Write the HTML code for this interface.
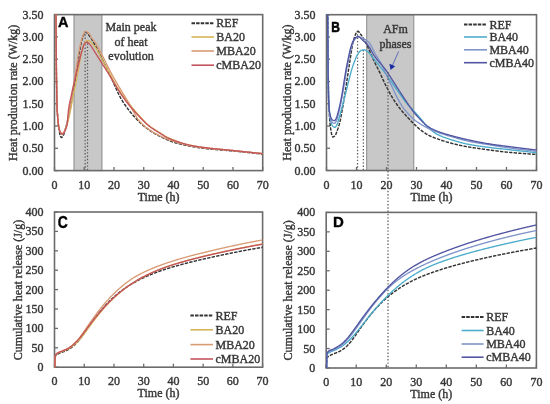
<!DOCTYPE html><html><head><meta charset="utf-8"><style>html,body{margin:0;padding:0;background:#fff;width:550px;height:404px;overflow:hidden}svg{display:block;will-change:transform}text{font-family:"Liberation Serif",serif;fill:#383838;stroke:#383838;stroke-width:0.4px}</style></head><body>
<svg width="550" height="404" viewBox="0 0 550 404">
<defs><clipPath id="clA"><rect x="53.00" y="14.60" width="211.20" height="157.50"/></clipPath><clipPath id="clB"><rect x="325.00" y="14.70" width="213.00" height="157.30"/></clipPath><clipPath id="clC"><rect x="53.00" y="212.00" width="211.10" height="156.70"/></clipPath><clipPath id="clD"><rect x="324.70" y="212.40" width="213.20" height="157.10"/></clipPath></defs>
<rect x="73.98" y="14.60" width="27.96" height="156.00" fill="#c8c8c8" stroke="#8a8a8a" stroke-width="1"/>
<line x1="54.50" y1="170.60" x2="54.50" y2="167.10" stroke="#6b6b6b" stroke-width="1.3"/>
<line x1="84.24" y1="170.60" x2="84.24" y2="167.10" stroke="#6b6b6b" stroke-width="1.3"/>
<line x1="113.99" y1="170.60" x2="113.99" y2="167.10" stroke="#6b6b6b" stroke-width="1.3"/>
<line x1="143.73" y1="170.60" x2="143.73" y2="167.10" stroke="#6b6b6b" stroke-width="1.3"/>
<line x1="173.47" y1="170.60" x2="173.47" y2="167.10" stroke="#6b6b6b" stroke-width="1.3"/>
<line x1="203.21" y1="170.60" x2="203.21" y2="167.10" stroke="#6b6b6b" stroke-width="1.3"/>
<line x1="232.96" y1="170.60" x2="232.96" y2="167.10" stroke="#6b6b6b" stroke-width="1.3"/>
<line x1="262.70" y1="170.60" x2="262.70" y2="167.10" stroke="#6b6b6b" stroke-width="1.3"/>
<line x1="54.50" y1="170.60" x2="58.00" y2="170.60" stroke="#6b6b6b" stroke-width="1.3"/>
<text x="43.50" y="174.60" font-size="12" text-anchor="end">0.00</text>
<line x1="54.50" y1="148.31" x2="58.00" y2="148.31" stroke="#6b6b6b" stroke-width="1.3"/>
<text x="43.50" y="152.31" font-size="12" text-anchor="end">0.50</text>
<line x1="54.50" y1="126.03" x2="58.00" y2="126.03" stroke="#6b6b6b" stroke-width="1.3"/>
<text x="43.50" y="130.03" font-size="12" text-anchor="end">1.00</text>
<line x1="54.50" y1="103.74" x2="58.00" y2="103.74" stroke="#6b6b6b" stroke-width="1.3"/>
<text x="43.50" y="107.74" font-size="12" text-anchor="end">1.50</text>
<line x1="54.50" y1="81.46" x2="58.00" y2="81.46" stroke="#6b6b6b" stroke-width="1.3"/>
<text x="43.50" y="85.46" font-size="12" text-anchor="end">2.00</text>
<line x1="54.50" y1="59.17" x2="58.00" y2="59.17" stroke="#6b6b6b" stroke-width="1.3"/>
<text x="43.50" y="63.17" font-size="12" text-anchor="end">2.50</text>
<line x1="54.50" y1="36.89" x2="58.00" y2="36.89" stroke="#6b6b6b" stroke-width="1.3"/>
<text x="43.50" y="40.89" font-size="12" text-anchor="end">3.00</text>
<line x1="54.50" y1="14.60" x2="58.00" y2="14.60" stroke="#6b6b6b" stroke-width="1.3"/>
<text x="43.50" y="18.60" font-size="12" text-anchor="end">3.50</text>
<text x="54.50" y="188.80" font-size="12" text-anchor="middle">0</text>
<text x="84.24" y="188.80" font-size="12" text-anchor="middle">10</text>
<text x="113.99" y="188.80" font-size="12" text-anchor="middle">20</text>
<text x="143.73" y="188.80" font-size="12" text-anchor="middle">30</text>
<text x="173.47" y="188.80" font-size="12" text-anchor="middle">40</text>
<text x="203.21" y="188.80" font-size="12" text-anchor="middle">50</text>
<text x="232.96" y="188.80" font-size="12" text-anchor="middle">60</text>
<text x="262.70" y="188.80" font-size="12" text-anchor="middle">70</text>
<text x="158.60" y="200.60" font-size="12" text-anchor="middle">Time (h)</text>
<text transform="translate(16.90,92.80) rotate(-90)" font-size="12" text-anchor="middle">Heat production rate (W/kg)</text>
<rect x="54.50" y="14.60" width="208.20" height="156.00" fill="none" stroke="#6b6b6b" stroke-width="1.6"/>
<g clip-path="url(#clA)">
<line x1="85.14" y1="31.00" x2="85.14" y2="170.00" stroke="#5a5a5a" stroke-width="1.25" stroke-dasharray="1.4,1.9"/>
<line x1="87.51" y1="40.00" x2="87.51" y2="170.00" stroke="#5a5a5a" stroke-width="1.25" stroke-dasharray="1.4,1.9"/>
<path d="M55.54,-52.26 55.76,-18.36 55.99,14.60 56.14,35.50 56.28,54.71 56.40,68.92 56.52,80.12 56.85,98.97 57.18,109.98 57.85,120.07 58.52,126.03 59.18,130.80 59.85,134.05 60.60,136.48 61.34,137.62 61.94,137.35 62.53,136.69 63.13,135.83 63.82,134.27 64.51,132.01 65.21,129.59 65.80,127.56 66.40,125.41 66.99,123.12 67.59,120.68 68.18,118.03 68.78,115.17 69.37,112.17 69.97,109.08 70.56,105.97 71.23,102.44 71.90,98.82 72.57,95.09 73.24,91.26 73.91,87.29 74.58,83.17 75.25,78.98 75.91,74.77 76.57,70.55 77.22,66.19 77.88,61.85 78.53,57.68 79.19,53.82 79.78,50.46 80.38,47.13 80.97,44.01 81.57,41.27 82.16,39.11 82.82,37.10 83.47,35.17 84.12,33.54 84.78,32.41 85.43,31.98 86.10,32.20 86.77,32.75 87.44,33.48 88.11,34.21 88.76,34.94 89.42,35.78 90.07,36.70 90.73,37.67 91.38,38.67 92.04,39.72 92.69,40.85 93.34,42.04 94.00,43.25 94.65,44.46 95.31,45.70 95.97,46.95 96.64,48.23 97.30,49.52 97.96,50.82 98.62,52.13 99.28,53.44 99.94,54.75 100.60,56.05 101.28,57.38 101.95,58.70 102.63,60.02 103.31,61.34 103.98,62.67 104.66,63.99 105.33,65.33 106.01,66.67 106.69,68.02 107.36,69.38 108.04,70.76 108.74,72.22 109.45,73.72 110.15,75.26 110.85,76.82 111.56,78.40 112.26,79.99 112.97,81.60 113.67,83.20 114.38,84.81 115.08,86.40 115.79,87.98 116.49,89.53 117.19,91.06 117.90,92.55 118.60,94.00 119.31,95.41 120.01,96.76 120.72,98.06 121.42,99.29 122.12,100.45 122.81,101.57 123.50,102.66 124.20,103.72 124.89,104.75 125.59,105.75 126.28,106.73 126.97,107.69 127.67,108.62 128.36,109.54 129.06,110.44 129.75,111.32 130.44,112.19 131.14,113.04 131.83,113.88 132.53,114.70 133.22,115.50 133.91,116.29 134.61,117.06 135.30,117.82 136.00,118.56 136.69,119.28 137.38,119.99 138.08,120.68 138.80,121.38 139.51,122.08 140.23,122.77 140.95,123.44 141.67,124.10 142.39,124.74 143.11,125.37 143.83,125.99 144.55,126.59 145.27,127.16 145.98,127.72 146.70,128.26 147.43,128.78 148.16,129.30 148.88,129.81 149.61,130.30 150.34,130.79 151.07,131.27 151.79,131.74 152.52,132.20 153.25,132.65 153.97,133.09 154.70,133.52 155.43,133.94 156.15,134.35 156.88,134.75 157.61,135.15 158.34,135.54 159.06,135.91 159.79,136.28 160.50,136.63 161.21,136.98 161.91,137.33 162.62,137.67 163.33,138.01 164.04,138.34 164.75,138.67 165.46,138.99 166.16,139.31 166.87,139.62 167.58,139.92 168.29,140.22 169.00,140.51 169.70,140.79 170.41,141.06 171.12,141.33 171.83,141.59 172.54,141.83 173.24,142.07 173.95,142.30 174.66,142.52 175.38,142.73 176.11,142.94 176.83,143.15 177.55,143.34 178.27,143.54 179.00,143.72 179.72,143.90 180.44,144.08 181.16,144.25 181.88,144.42 182.61,144.59 183.33,144.75 184.05,144.91 184.77,145.06 185.50,145.22 186.22,145.37 186.94,145.51 187.66,145.66 188.39,145.80 189.11,145.94 189.83,146.09 190.53,146.22 191.24,146.36 191.94,146.49 192.65,146.62 193.35,146.76 194.06,146.89 194.76,147.01 195.47,147.14 196.17,147.26 196.87,147.38 197.58,147.50 198.28,147.61 198.99,147.73 199.69,147.83 200.40,147.94 201.10,148.04 201.81,148.13 202.51,148.23 203.21,148.31 203.94,148.40 204.67,148.49 205.39,148.57 206.12,148.65 206.84,148.73 207.57,148.80 208.29,148.88 209.02,148.95 209.74,149.02 210.47,149.09 211.19,149.16 211.92,149.22 212.64,149.29 213.37,149.35 214.10,149.41 214.82,149.47 215.55,149.54 216.27,149.60 217.00,149.65 217.72,149.71 218.45,149.77 219.17,149.83 219.90,149.89 220.62,149.94 221.35,150.00 222.08,150.06 222.80,150.12 223.53,150.17 224.25,150.23 224.98,150.29 225.70,150.35 226.43,150.41 227.15,150.47 227.88,150.53 228.60,150.59 229.33,150.66 230.06,150.72 230.78,150.78 231.51,150.85 232.23,150.92 232.96,150.99 233.68,151.06 234.41,151.13 235.13,151.20 235.86,151.27 236.58,151.35 237.31,151.42 238.04,151.49 238.76,151.57 239.49,151.64 240.21,151.72 240.94,151.79 241.66,151.87 242.39,151.94 243.11,152.02 243.84,152.09 244.56,152.17 245.29,152.25 246.01,152.33 246.74,152.40 247.47,152.48 248.19,152.56 248.92,152.64 249.64,152.71 250.37,152.79 251.09,152.87 251.82,152.95 252.54,153.02 253.27,153.10 253.99,153.18 254.72,153.26 255.45,153.34 256.17,153.41 256.90,153.49 257.62,153.57 258.35,153.65 259.07,153.72 259.80,153.80 260.52,153.88 261.25,153.96 261.97,154.03 262.70,154.11" fill="none" stroke="#333333" stroke-width="1.45" stroke-dasharray="3.4,1.2" stroke-linejoin="round"/>
<path d="M55.54,-52.26 55.76,-18.36 55.99,14.60 56.14,35.50 56.28,54.71 56.40,68.92 56.52,80.12 56.85,99.04 57.18,109.98 57.85,119.80 58.52,125.14 59.06,128.14 59.61,130.41 60.15,131.82 60.85,132.94 61.54,133.74 62.23,134.05 62.93,133.70 63.62,132.86 64.32,131.82 64.98,130.61 65.65,129.03 66.32,127.17 66.99,125.14 67.71,122.69 68.42,119.84 69.13,116.70 69.85,113.38 70.56,109.98 71.16,106.97 71.75,103.72 72.35,100.36 72.94,97.05 73.54,93.94 74.13,91.07 74.73,88.34 75.32,85.66 75.91,82.95 76.51,80.12 77.22,76.45 77.92,72.47 78.63,68.32 79.34,64.16 80.04,60.13 80.75,56.37 81.45,53.03 82.16,50.26 82.76,48.21 83.35,46.25 83.95,44.52 84.54,43.14 85.14,42.23 85.80,41.56 86.47,40.99 87.14,40.60 87.81,40.45 88.46,40.57 89.10,40.90 89.75,41.37 90.39,41.93 91.03,42.54 91.68,43.13 92.32,43.72 92.95,44.38 93.59,45.10 94.23,45.87 94.87,46.70 95.50,47.57 96.14,48.47 96.80,49.49 97.46,50.62 98.12,51.83 98.78,53.10 99.44,54.41 100.11,55.74 100.77,57.07 101.43,58.37 102.09,59.62 102.80,60.93 103.52,62.23 104.23,63.52 104.94,64.81 105.66,66.09 106.37,67.38 107.09,68.66 107.80,69.95 108.51,71.24 109.23,72.54 109.93,73.84 110.63,75.17 111.34,76.51 112.04,77.87 112.74,79.22 113.44,80.56 114.15,81.88 114.85,83.18 115.55,84.44 116.26,85.65 116.96,86.81 117.69,87.96 118.42,89.09 119.16,90.18 119.89,91.25 120.62,92.30 121.35,93.33 122.08,94.34 122.82,95.33 123.55,96.31 124.28,97.29 125.01,98.25 125.75,99.22 126.48,100.18 127.20,101.13 127.93,102.07 128.65,103.01 129.38,103.94 130.10,104.87 130.83,105.78 131.55,106.69 132.28,107.59 133.00,108.49 133.73,109.37 134.45,110.24 135.18,111.10 135.90,111.95 136.63,112.79 137.35,113.62 138.08,114.44 138.77,115.22 139.47,115.99 140.16,116.77 140.85,117.54 141.55,118.31 142.24,119.07 142.94,119.82 143.63,120.55 144.32,121.27 145.02,121.97 145.71,122.65 146.41,123.31 147.10,123.95 147.79,124.56 148.49,125.14 149.19,125.70 149.90,126.25 150.61,126.77 151.31,127.28 152.02,127.78 152.73,128.26 153.43,128.73 154.14,129.19 154.84,129.64 155.55,130.09 156.26,130.53 156.96,130.97 157.67,131.40 158.38,131.84 159.08,132.27 159.79,132.71 160.48,133.15 161.18,133.59 161.87,134.03 162.57,134.48 163.26,134.91 163.95,135.34 164.65,135.76 165.34,136.17 166.04,136.56 166.73,136.94 167.42,137.29 168.12,137.62 168.84,137.94 169.57,138.27 170.29,138.59 171.01,138.90 171.74,139.21 172.46,139.52 173.18,139.82 173.91,140.12 174.63,140.41 175.36,140.69 176.08,140.98 176.80,141.25 177.53,141.52 178.25,141.79 178.97,142.05 179.70,142.30 180.42,142.55 181.15,142.79 181.87,143.03 182.59,143.26 183.32,143.48 184.04,143.70 184.76,143.91 185.49,144.11 186.21,144.31 186.94,144.50 187.66,144.69 188.38,144.86 189.11,145.03 189.83,145.19 190.53,145.35 191.24,145.49 191.94,145.63 192.65,145.77 193.35,145.90 194.06,146.03 194.76,146.16 195.47,146.28 196.17,146.40 196.87,146.51 197.58,146.62 198.28,146.73 198.99,146.83 199.69,146.94 200.40,147.04 201.10,147.14 201.81,147.23 202.51,147.33 203.21,147.42 203.94,147.52 204.67,147.61 205.39,147.70 206.12,147.79 206.84,147.88 207.57,147.97 208.29,148.05 209.02,148.14 209.74,148.22 210.47,148.30 211.19,148.38 211.92,148.46 212.64,148.53 213.37,148.61 214.10,148.69 214.82,148.76 215.55,148.83 216.27,148.91 217.00,148.98 217.72,149.05 218.45,149.12 219.17,149.19 219.90,149.26 220.62,149.33 221.35,149.40 222.08,149.47 222.80,149.54 223.53,149.61 224.25,149.68 224.98,149.75 225.70,149.82 226.43,149.89 227.15,149.96 227.88,150.03 228.60,150.10 229.33,150.17 230.06,150.25 230.78,150.32 231.51,150.39 232.23,150.47 232.96,150.54 233.68,150.62 234.41,150.70 235.13,150.77 235.86,150.85 236.58,150.92 237.31,151.00 238.04,151.08 238.76,151.15 239.49,151.23 240.21,151.30 240.94,151.38 241.66,151.46 242.39,151.53 243.11,151.61 243.84,151.68 244.56,151.76 245.29,151.84 246.01,151.91 246.74,151.99 247.47,152.06 248.19,152.14 248.92,152.22 249.64,152.29 250.37,152.37 251.09,152.45 251.82,152.52 252.54,152.60 253.27,152.67 253.99,152.75 254.72,152.83 255.45,152.90 256.17,152.98 256.90,153.05 257.62,153.13 258.35,153.21 259.07,153.28 259.80,153.36 260.52,153.43 261.25,153.51 261.97,153.59 262.70,153.66" fill="none" stroke="#d6b458" stroke-width="1.35" stroke-linejoin="round"/>
<path d="M55.54,-52.26 55.76,-18.36 55.99,14.60 56.14,35.50 56.28,54.71 56.40,68.92 56.52,80.12 56.85,99.04 57.18,109.98 57.85,119.80 58.52,125.14 59.06,128.14 59.61,130.41 60.15,131.82 60.85,132.94 61.54,133.74 62.23,134.05 62.93,133.63 63.62,132.61 64.32,131.38 64.98,130.01 65.65,128.26 66.32,126.17 66.99,123.80 67.66,120.82 68.33,117.14 69.00,113.11 69.67,109.09 70.34,105.09 71.01,100.93 71.68,96.73 72.35,92.60 73.04,88.43 73.73,84.30 74.43,80.12 75.11,75.82 75.79,71.33 76.47,66.77 77.15,62.26 77.83,57.92 78.51,53.88 79.19,50.26 79.78,47.32 80.38,44.48 80.97,41.85 81.57,39.58 82.16,37.78 82.84,36.00 83.53,34.32 84.21,32.89 84.90,31.91 85.58,31.54 86.21,31.61 86.83,31.80 87.46,32.10 88.08,32.46 88.70,32.87 89.30,33.50 89.89,34.45 90.49,35.59 91.08,36.75 91.68,37.78 92.38,38.83 93.09,39.82 93.80,40.77 94.50,41.71 95.21,42.66 95.92,43.65 96.62,44.68 97.33,45.80 98.05,47.04 98.77,48.38 99.50,49.79 100.22,51.24 100.94,52.71 101.66,54.17 102.39,55.61 103.08,56.97 103.77,58.35 104.47,59.73 105.16,61.13 105.86,62.53 106.55,63.93 107.24,65.33 107.94,66.72 108.63,68.11 109.33,69.49 110.02,70.85 110.71,72.20 111.41,73.52 112.10,74.83 112.80,76.11 113.51,77.41 114.23,78.68 114.95,79.94 115.67,81.18 116.39,82.41 117.11,83.62 117.83,84.83 118.55,86.03 119.27,87.23 119.98,88.42 120.70,89.62 121.42,90.82 122.08,91.92 122.74,93.00 123.40,94.08 124.07,95.15 124.73,96.22 125.39,97.30 126.05,98.39 126.71,99.50 127.37,100.62 128.03,101.77 128.69,102.95 129.35,104.15 130.01,105.35 130.67,106.56 131.34,107.77 132.00,108.97 132.66,110.16 133.32,111.32 134.00,112.53 134.68,113.76 135.36,115.00 136.04,116.21 136.72,117.35 137.40,118.41 138.08,119.34 138.80,120.24 139.51,121.09 140.23,121.90 140.95,122.68 141.67,123.42 142.39,124.12 143.11,124.80 143.83,125.45 144.55,126.07 145.27,126.67 145.98,127.25 146.70,127.81 147.43,128.36 148.16,128.90 148.88,129.42 149.61,129.92 150.34,130.42 151.07,130.90 151.79,131.36 152.52,131.82 153.25,132.26 153.97,132.70 154.70,133.12 155.43,133.53 156.15,133.94 156.88,134.33 157.61,134.72 158.34,135.10 159.06,135.47 159.79,135.83 160.48,136.18 161.18,136.51 161.87,136.84 162.57,137.15 163.26,137.46 163.95,137.77 164.65,138.06 165.34,138.35 166.04,138.62 166.73,138.89 167.42,139.15 168.12,139.40 168.84,139.66 169.57,139.91 170.29,140.16 171.01,140.40 171.74,140.65 172.46,140.89 173.18,141.13 173.91,141.36 174.63,141.60 175.36,141.83 176.08,142.05 176.80,142.27 177.53,142.49 178.25,142.71 178.97,142.92 179.70,143.13 180.42,143.33 181.15,143.54 181.87,143.73 182.59,143.93 183.32,144.12 184.04,144.30 184.76,144.49 185.49,144.66 186.21,144.84 186.94,145.01 187.66,145.17 188.38,145.33 189.11,145.49 189.83,145.64 190.53,145.78 191.24,145.93 191.94,146.06 192.65,146.20 193.35,146.33 194.06,146.46 194.76,146.59 195.47,146.72 196.17,146.84 196.87,146.96 197.58,147.07 198.28,147.18 198.99,147.29 199.69,147.40 200.40,147.50 201.10,147.60 201.81,147.69 202.51,147.78 203.21,147.87 203.94,147.96 204.67,148.04 205.39,148.12 206.12,148.20 206.84,148.28 207.57,148.36 208.29,148.43 209.02,148.50 209.74,148.57 210.47,148.64 211.19,148.71 211.92,148.78 212.64,148.84 213.37,148.90 214.10,148.97 214.82,149.03 215.55,149.09 216.27,149.15 217.00,149.21 217.72,149.27 218.45,149.33 219.17,149.38 219.90,149.44 220.62,149.50 221.35,149.56 222.08,149.61 222.80,149.67 223.53,149.73 224.25,149.79 224.98,149.85 225.70,149.90 226.43,149.96 227.15,150.02 227.88,150.08 228.60,150.15 229.33,150.21 230.06,150.27 230.78,150.34 231.51,150.41 232.23,150.47 232.96,150.54 233.68,150.61 234.41,150.68 235.13,150.76 235.86,150.83 236.58,150.90 237.31,150.97 238.04,151.05 238.76,151.12 239.49,151.20 240.21,151.27 240.94,151.35 241.66,151.42 242.39,151.50 243.11,151.57 243.84,151.65 244.56,151.73 245.29,151.80 246.01,151.88 246.74,151.96 247.47,152.03 248.19,152.11 248.92,152.19 249.64,152.27 250.37,152.35 251.09,152.42 251.82,152.50 252.54,152.58 253.27,152.66 253.99,152.74 254.72,152.81 255.45,152.89 256.17,152.97 256.90,153.05 257.62,153.12 258.35,153.20 259.07,153.28 259.80,153.36 260.52,153.43 261.25,153.51 261.97,153.59 262.70,153.66" fill="none" stroke="#d99b74" stroke-width="1.35" stroke-linejoin="round"/>
<path d="M55.54,-52.26 55.76,-18.36 55.99,14.60 56.14,35.50 56.28,54.71 56.40,68.92 56.52,80.12 56.85,99.04 57.18,109.98 57.85,119.80 58.52,125.14 59.06,128.14 59.61,130.41 60.15,131.82 60.85,132.94 61.54,133.74 62.23,134.05 62.93,133.70 63.62,132.86 64.32,131.82 64.98,130.76 65.65,129.41 66.32,127.60 66.99,125.14 67.49,121.05 67.98,115.00 68.48,109.98 69.07,106.18 69.67,102.99 70.26,100.20 70.86,97.55 71.45,94.83 72.11,91.74 72.76,88.74 73.42,85.81 74.07,82.94 74.73,80.12 75.40,77.22 76.08,74.32 76.75,71.43 77.43,68.56 78.11,65.72 78.78,62.94 79.46,60.22 80.13,57.57 80.81,55.02 81.48,52.58 82.16,50.26 82.85,47.78 83.55,45.46 84.24,44.02 84.91,43.32 85.58,42.75 86.25,42.37 86.92,42.23 87.57,42.40 88.23,42.84 88.88,43.47 89.54,44.19 90.19,44.91 90.79,45.63 91.38,46.49 91.98,47.44 92.57,48.41 93.17,49.37 93.86,50.45 94.55,51.56 95.25,52.68 95.94,53.81 96.64,54.94 97.33,56.05 98.06,57.22 98.80,58.38 99.53,59.54 100.26,60.69 101.00,61.84 101.73,62.99 102.47,64.14 103.20,65.29 103.93,66.44 104.67,67.59 105.40,68.75 106.13,69.91 106.87,71.08 107.60,72.25 108.33,73.43 109.05,74.61 109.77,75.79 110.49,76.99 111.21,78.19 111.93,79.40 112.65,80.61 113.37,81.82 114.08,83.02 114.80,84.21 115.52,85.39 116.24,86.56 116.96,87.70 117.65,88.78 118.33,89.86 119.02,90.94 119.71,92.01 120.39,93.08 121.08,94.14 121.76,95.18 122.45,96.22 123.14,97.23 123.82,98.22 124.51,99.20 125.20,100.15 125.88,101.07 126.60,102.01 127.32,102.93 128.03,103.84 128.75,104.73 129.47,105.61 130.19,106.48 130.90,107.33 131.62,108.17 132.34,109.00 133.06,109.82 133.77,110.63 134.49,111.43 135.21,112.23 135.93,113.01 136.64,113.79 137.36,114.56 138.08,115.33 138.77,116.07 139.47,116.81 140.16,117.55 140.85,118.29 141.55,119.02 142.24,119.74 142.94,120.45 143.63,121.15 144.32,121.84 145.02,122.51 145.71,123.17 146.41,123.81 147.10,124.42 147.79,125.01 148.49,125.58 149.19,126.14 149.90,126.68 150.61,127.20 151.31,127.71 152.02,128.20 152.73,128.68 153.43,129.16 154.14,129.62 154.84,130.07 155.55,130.52 156.26,130.97 156.96,131.41 157.67,131.84 158.38,132.28 159.08,132.72 159.79,133.16 160.48,133.60 161.18,134.04 161.87,134.49 162.57,134.93 163.26,135.37 163.95,135.80 164.65,136.23 165.34,136.63 166.04,137.03 166.73,137.40 167.42,137.74 168.12,138.06 168.84,138.38 169.57,138.69 170.29,138.99 171.01,139.29 171.74,139.59 172.46,139.88 173.18,140.16 173.91,140.44 174.63,140.71 175.36,140.98 176.08,141.24 176.80,141.50 177.53,141.75 178.25,142.00 178.97,142.24 179.70,142.47 180.42,142.70 181.15,142.93 181.87,143.15 182.59,143.36 183.32,143.57 184.04,143.77 184.76,143.97 185.49,144.16 186.21,144.35 186.94,144.53 187.66,144.70 188.38,144.87 189.11,145.04 189.83,145.19 190.53,145.34 191.24,145.49 191.94,145.63 192.65,145.77 193.35,145.90 194.06,146.03 194.76,146.15 195.47,146.27 196.17,146.39 196.87,146.50 197.58,146.62 198.28,146.72 198.99,146.83 199.69,146.93 200.40,147.04 201.10,147.14 201.81,147.23 202.51,147.33 203.21,147.42 203.94,147.52 204.67,147.61 205.39,147.70 206.12,147.79 206.84,147.88 207.57,147.97 208.29,148.05 209.02,148.14 209.74,148.22 210.47,148.30 211.19,148.38 211.92,148.46 212.64,148.53 213.37,148.61 214.10,148.69 214.82,148.76 215.55,148.83 216.27,148.91 217.00,148.98 217.72,149.05 218.45,149.12 219.17,149.19 219.90,149.26 220.62,149.33 221.35,149.40 222.08,149.47 222.80,149.54 223.53,149.61 224.25,149.68 224.98,149.75 225.70,149.82 226.43,149.89 227.15,149.96 227.88,150.03 228.60,150.10 229.33,150.17 230.06,150.25 230.78,150.32 231.51,150.39 232.23,150.47 232.96,150.54 233.68,150.62 234.41,150.70 235.13,150.77 235.86,150.85 236.58,150.92 237.31,151.00 238.04,151.08 238.76,151.15 239.49,151.23 240.21,151.30 240.94,151.38 241.66,151.46 242.39,151.53 243.11,151.61 243.84,151.68 244.56,151.76 245.29,151.84 246.01,151.91 246.74,151.99 247.47,152.06 248.19,152.14 248.92,152.22 249.64,152.29 250.37,152.37 251.09,152.45 251.82,152.52 252.54,152.60 253.27,152.67 253.99,152.75 254.72,152.83 255.45,152.90 256.17,152.98 256.90,153.05 257.62,153.13 258.35,153.21 259.07,153.28 259.80,153.36 260.52,153.43 261.25,153.51 261.97,153.59 262.70,153.66" fill="none" stroke="#c5545c" stroke-width="1.35" stroke-linejoin="round"/>
</g>
<text x="58" y="27.3" font-family="Liberation Sans" style="font-family:'Liberation Sans',sans-serif;fill:#000;stroke:#000;stroke-width:0.35px" font-size="14.5" font-weight="bold">A</text>
<text x="131" y="31.00" font-size="12" text-anchor="middle">Main peak</text>
<text x="131" y="45.50" font-size="12" text-anchor="middle">of heat</text>
<text x="131" y="60.00" font-size="12" text-anchor="middle">evolution</text>
<line x1="191.50" y1="23.20" x2="214.00" y2="23.20" stroke="#333333" stroke-width="2" stroke-dasharray="3.5,1.1"/>
<text x="216.30" y="27.40" font-size="12">REF</text>
<line x1="191.50" y1="37.00" x2="214.00" y2="37.00" stroke="#d6b458" stroke-width="1.6"/>
<text x="216.30" y="41.20" font-size="12">BA20</text>
<line x1="191.50" y1="51.00" x2="214.00" y2="51.00" stroke="#d99b74" stroke-width="1.6"/>
<text x="216.30" y="55.20" font-size="12">MBA20</text>
<line x1="191.50" y1="65.20" x2="214.00" y2="65.20" stroke="#c5545c" stroke-width="1.6"/>
<text x="216.30" y="69.40" font-size="12">cMBA20</text>
<rect x="366.70" y="14.70" width="47.10" height="155.80" fill="#c8c8c8" stroke="#8a8a8a" stroke-width="1"/>
<line x1="326.50" y1="170.50" x2="326.50" y2="167.00" stroke="#6b6b6b" stroke-width="1.3"/>
<line x1="356.50" y1="170.50" x2="356.50" y2="167.00" stroke="#6b6b6b" stroke-width="1.3"/>
<line x1="386.50" y1="170.50" x2="386.50" y2="167.00" stroke="#6b6b6b" stroke-width="1.3"/>
<line x1="416.50" y1="170.50" x2="416.50" y2="167.00" stroke="#6b6b6b" stroke-width="1.3"/>
<line x1="446.50" y1="170.50" x2="446.50" y2="167.00" stroke="#6b6b6b" stroke-width="1.3"/>
<line x1="476.50" y1="170.50" x2="476.50" y2="167.00" stroke="#6b6b6b" stroke-width="1.3"/>
<line x1="506.50" y1="170.50" x2="506.50" y2="167.00" stroke="#6b6b6b" stroke-width="1.3"/>
<line x1="536.50" y1="170.50" x2="536.50" y2="167.00" stroke="#6b6b6b" stroke-width="1.3"/>
<line x1="326.50" y1="170.50" x2="330.00" y2="170.50" stroke="#6b6b6b" stroke-width="1.3"/>
<text x="315.50" y="174.50" font-size="12" text-anchor="end">0.00</text>
<line x1="326.50" y1="148.24" x2="330.00" y2="148.24" stroke="#6b6b6b" stroke-width="1.3"/>
<text x="315.50" y="152.24" font-size="12" text-anchor="end">0.50</text>
<line x1="326.50" y1="125.99" x2="330.00" y2="125.99" stroke="#6b6b6b" stroke-width="1.3"/>
<text x="315.50" y="129.99" font-size="12" text-anchor="end">1.00</text>
<line x1="326.50" y1="103.73" x2="330.00" y2="103.73" stroke="#6b6b6b" stroke-width="1.3"/>
<text x="315.50" y="107.73" font-size="12" text-anchor="end">1.50</text>
<line x1="326.50" y1="81.47" x2="330.00" y2="81.47" stroke="#6b6b6b" stroke-width="1.3"/>
<text x="315.50" y="85.47" font-size="12" text-anchor="end">2.00</text>
<line x1="326.50" y1="59.21" x2="330.00" y2="59.21" stroke="#6b6b6b" stroke-width="1.3"/>
<text x="315.50" y="63.21" font-size="12" text-anchor="end">2.50</text>
<line x1="326.50" y1="36.96" x2="330.00" y2="36.96" stroke="#6b6b6b" stroke-width="1.3"/>
<text x="315.50" y="40.96" font-size="12" text-anchor="end">3.00</text>
<line x1="326.50" y1="14.70" x2="330.00" y2="14.70" stroke="#6b6b6b" stroke-width="1.3"/>
<text x="315.50" y="18.70" font-size="12" text-anchor="end">3.50</text>
<text x="326.50" y="188.70" font-size="12" text-anchor="middle">0</text>
<text x="356.50" y="188.70" font-size="12" text-anchor="middle">10</text>
<text x="386.50" y="188.70" font-size="12" text-anchor="middle">20</text>
<text x="416.50" y="188.70" font-size="12" text-anchor="middle">30</text>
<text x="446.50" y="188.70" font-size="12" text-anchor="middle">40</text>
<text x="476.50" y="188.70" font-size="12" text-anchor="middle">50</text>
<text x="506.50" y="188.70" font-size="12" text-anchor="middle">60</text>
<text x="536.50" y="188.70" font-size="12" text-anchor="middle">70</text>
<text x="431.50" y="200.50" font-size="12" text-anchor="middle">Time (h)</text>
<text transform="translate(290.60,92.60) rotate(-90)" font-size="12" text-anchor="middle">Heat production rate (W/kg)</text>
<rect x="326.50" y="14.70" width="210.00" height="155.80" fill="none" stroke="#6b6b6b" stroke-width="1.6"/>
<g clip-path="url(#clB)">
<line x1="357.55" y1="31.00" x2="357.55" y2="170.00" stroke="#5a5a5a" stroke-width="1.25" stroke-dasharray="1.4,1.9"/>
<line x1="363.40" y1="50.00" x2="363.40" y2="170.00" stroke="#5a5a5a" stroke-width="1.25" stroke-dasharray="1.4,1.9"/>
<path d="M327.40,-52.07 327.62,-18.22 327.85,14.70 328.00,35.24 328.15,54.76 328.25,68.85 328.36,80.14 328.63,96.39 328.90,105.95 329.40,115.72 329.90,122.25 330.40,126.88 331.00,131.13 331.60,134.00 332.20,136.10 332.80,137.11 333.50,136.92 334.20,136.43 334.90,135.78 335.50,134.91 336.10,133.61 336.70,132.06 337.30,130.44 337.98,128.56 338.65,126.48 339.32,124.15 340.00,121.53 340.70,118.23 341.40,114.36 342.10,110.41 342.80,106.52 343.50,102.53 344.20,98.39 344.93,93.85 345.66,89.10 346.39,84.22 347.11,79.30 347.84,74.40 348.57,69.61 349.30,65.00 350.00,60.51 350.70,55.83 351.40,51.22 352.10,46.96 352.80,43.30 353.50,40.52 354.20,38.26 354.90,36.09 355.60,34.15 356.30,32.59 357.00,31.55 357.70,31.17 358.36,31.40 359.02,32.01 359.68,32.86 360.34,33.81 361.00,34.73 361.64,35.62 362.29,36.59 362.93,37.65 363.57,38.76 364.21,39.91 364.86,41.10 365.50,42.30 366.24,43.72 366.98,45.21 367.72,46.77 368.45,48.37 369.19,50.01 369.93,51.69 370.67,53.37 371.41,55.07 372.15,56.75 372.88,58.42 373.62,60.07 374.36,61.67 375.10,63.22 375.74,64.52 376.39,65.79 377.03,67.04 377.67,68.29 378.31,69.54 378.96,70.81 379.60,72.12 380.33,73.67 381.06,75.27 381.79,76.91 382.51,78.55 383.24,80.17 383.97,81.74 384.70,83.25 385.43,84.71 386.15,86.14 386.88,87.57 387.60,88.97 388.32,90.36 389.05,91.72 389.77,93.06 390.50,94.37 391.23,95.65 391.95,96.89 392.68,98.10 393.40,99.28 394.13,100.43 394.87,101.55 395.60,102.63 396.33,103.69 397.07,104.72 397.80,105.73 398.53,106.72 399.27,107.68 400.00,108.63 400.69,109.50 401.38,110.35 402.07,111.18 402.76,111.99 403.45,112.79 404.14,113.58 404.83,114.35 405.52,115.12 406.21,115.88 406.90,116.64 407.59,117.39 408.28,118.13 408.97,118.86 409.66,119.59 410.35,120.30 411.04,121.01 411.73,121.71 412.42,122.40 413.11,123.09 413.80,123.76 414.50,124.44 415.20,125.12 415.90,125.80 416.60,126.47 417.30,127.12 418.00,127.76 418.70,128.38 419.40,128.98 420.10,129.55 420.81,130.10 421.52,130.65 422.23,131.19 422.94,131.71 423.65,132.23 424.35,132.72 425.06,133.20 425.77,133.66 426.48,134.09 427.19,134.50 427.90,134.89 428.64,135.27 429.38,135.63 430.12,135.97 430.85,136.30 431.59,136.62 432.33,136.93 433.07,137.23 433.81,137.52 434.55,137.81 435.28,138.08 436.02,138.36 436.76,138.63 437.50,138.89 438.24,139.16 438.98,139.43 439.72,139.69 440.46,139.94 441.21,140.20 441.95,140.45 442.69,140.69 443.43,140.93 444.17,141.17 444.91,141.40 445.65,141.63 446.39,141.86 447.14,142.08 447.88,142.29 448.62,142.50 449.36,142.70 450.10,142.90 450.82,143.09 451.54,143.28 452.26,143.46 452.98,143.65 453.70,143.83 454.42,144.00 455.14,144.18 455.86,144.35 456.58,144.52 457.30,144.69 458.02,144.86 458.74,145.02 459.46,145.18 460.18,145.34 460.90,145.50 461.62,145.65 462.34,145.80 463.06,145.95 463.78,146.10 464.50,146.24 465.22,146.38 465.94,146.51 466.66,146.65 467.38,146.78 468.10,146.91 468.81,147.03 469.51,147.15 470.22,147.26 470.92,147.38 471.63,147.49 472.34,147.59 473.04,147.70 473.75,147.80 474.45,147.90 475.16,148.00 475.86,148.10 476.57,148.20 477.28,148.30 477.98,148.40 478.69,148.49 479.39,148.59 480.10,148.69 480.83,148.79 481.57,148.89 482.30,148.99 483.04,149.10 483.77,149.20 484.51,149.30 485.24,149.41 485.97,149.51 486.71,149.61 487.44,149.71 488.18,149.81 488.91,149.92 489.64,150.02 490.38,150.12 491.11,150.22 491.85,150.32 492.58,150.42 493.32,150.52 494.05,150.61 494.78,150.71 495.52,150.81 496.25,150.90 496.99,151.00 497.72,151.09 498.46,151.18 499.19,151.27 499.92,151.36 500.66,151.45 501.39,151.54 502.13,151.62 502.86,151.71 503.59,151.79 504.33,151.87 505.06,151.95 505.80,152.03 506.53,152.10 507.27,152.18 508.00,152.25 508.73,152.32 509.46,152.39 510.19,152.46 510.92,152.52 511.65,152.59 512.38,152.65 513.12,152.71 513.85,152.78 514.58,152.84 515.31,152.90 516.04,152.96 516.77,153.01 517.50,153.07 518.23,153.13 518.96,153.18 519.69,153.24 520.42,153.29 521.15,153.35 521.88,153.40 522.62,153.46 523.35,153.51 524.08,153.56 524.81,153.62 525.54,153.67 526.27,153.72 527.00,153.77 527.73,153.83 528.46,153.88 529.19,153.93 529.92,153.98 530.65,154.04 531.38,154.09 532.12,154.14 532.85,154.20 533.58,154.25 534.31,154.31 535.04,154.36 535.77,154.42 536.50,154.47" fill="none" stroke="#333333" stroke-width="1.45" stroke-dasharray="3.4,1.2" stroke-linejoin="round"/>
<path d="M327.25,-52.07 327.44,-17.32 327.64,14.70 327.82,39.83 328.00,59.21 328.38,85.18 328.75,100.17 329.30,109.60 329.85,115.64 330.40,119.31 331.10,122.48 331.80,124.75 332.50,125.99 333.10,126.52 333.70,126.94 334.30,127.22 334.90,127.32 335.60,126.91 336.30,125.91 337.00,124.65 337.70,122.88 338.40,120.48 339.10,117.97 339.79,115.59 340.47,113.12 341.16,110.57 341.84,107.98 342.53,105.37 343.21,102.75 343.90,100.17 344.62,97.44 345.33,94.62 346.05,91.73 346.76,88.81 347.48,85.87 348.19,82.94 348.91,80.06 349.62,77.24 350.34,74.50 351.05,71.89 351.77,69.42 352.48,67.11 353.20,65.00 353.89,63.09 354.57,61.24 355.26,59.46 355.94,57.81 356.63,56.30 357.31,54.98 358.00,53.87 358.66,52.92 359.32,52.02 359.98,51.24 360.64,50.65 361.30,50.31 361.98,50.14 362.65,49.99 363.32,49.90 364.00,49.87 364.60,49.95 365.20,50.16 365.80,50.47 366.40,50.83 367.00,51.20 367.74,51.71 368.47,52.35 369.21,53.08 369.95,53.91 370.68,54.80 371.42,55.74 372.15,56.72 372.89,57.70 373.63,58.68 374.36,59.64 375.10,60.55 375.81,61.40 376.51,62.26 377.22,63.12 377.93,63.99 378.64,64.86 379.34,65.74 380.05,66.63 380.76,67.52 381.46,68.42 382.17,69.32 382.88,70.23 383.59,71.15 384.29,72.08 385.00,73.01 385.71,73.97 386.43,74.93 387.14,75.91 387.85,76.90 388.56,77.90 389.27,78.91 389.99,79.92 390.70,80.94 391.41,81.96 392.12,82.98 392.84,84.00 393.55,85.02 394.26,86.04 394.98,87.04 395.69,88.05 396.40,89.04 397.11,90.03 397.82,91.04 398.54,92.05 399.25,93.07 399.96,94.10 400.68,95.12 401.39,96.13 402.10,97.15 402.81,98.15 403.52,99.13 404.24,100.11 404.95,101.06 405.66,101.99 406.38,102.90 407.09,103.77 407.80,104.62 408.47,105.37 409.13,106.09 409.80,106.79 410.47,107.46 411.13,108.13 411.80,108.79 412.47,109.46 413.13,110.14 413.80,110.85 414.50,111.61 415.20,112.39 415.90,113.17 416.60,113.95 417.30,114.75 418.00,115.55 418.70,116.35 419.40,117.16 420.10,117.97 420.81,118.82 421.52,119.70 422.23,120.60 422.94,121.51 423.65,122.43 424.35,123.33 425.06,124.21 425.77,125.07 426.48,125.87 427.19,126.63 427.90,127.32 428.64,128.00 429.38,128.65 430.12,129.29 430.85,129.91 431.59,130.51 432.33,131.09 433.07,131.65 433.81,132.18 434.55,132.68 435.28,133.17 436.02,133.62 436.76,134.05 437.50,134.44 438.24,134.82 438.98,135.18 439.72,135.52 440.46,135.85 441.21,136.17 441.95,136.48 442.69,136.77 443.43,137.06 444.17,137.33 444.91,137.60 445.65,137.86 446.39,138.12 447.14,138.37 447.88,138.62 448.62,138.86 449.36,139.10 450.10,139.34 450.82,139.57 451.54,139.80 452.26,140.03 452.98,140.26 453.70,140.48 454.42,140.70 455.14,140.92 455.86,141.14 456.58,141.35 457.30,141.56 458.02,141.77 458.74,141.97 459.46,142.17 460.18,142.37 460.90,142.56 461.62,142.75 462.34,142.93 463.06,143.11 463.78,143.29 464.50,143.46 465.22,143.63 465.94,143.79 466.66,143.94 467.38,144.09 468.10,144.24 468.83,144.38 469.56,144.52 470.29,144.65 471.01,144.78 471.74,144.91 472.47,145.04 473.20,145.16 473.93,145.28 474.66,145.40 475.39,145.52 476.11,145.63 476.84,145.75 477.57,145.86 478.30,145.96 479.03,146.07 479.76,146.17 480.49,146.28 481.21,146.38 481.94,146.48 482.67,146.58 483.40,146.68 484.13,146.78 484.86,146.87 485.59,146.97 486.31,147.07 487.04,147.16 487.77,147.26 488.50,147.35 489.22,147.45 489.94,147.54 490.67,147.63 491.39,147.72 492.11,147.81 492.83,147.89 493.56,147.98 494.28,148.06 495.00,148.15 495.72,148.23 496.44,148.31 497.17,148.39 497.89,148.47 498.61,148.55 499.33,148.63 500.06,148.71 500.78,148.79 501.50,148.87 502.22,148.95 502.94,149.02 503.67,149.10 504.39,149.18 505.11,149.26 505.83,149.34 506.56,149.42 507.28,149.50 508.00,149.58 508.73,149.66 509.46,149.74 510.19,149.82 510.92,149.90 511.65,149.98 512.38,150.07 513.12,150.15 513.85,150.23 514.58,150.31 515.31,150.39 516.04,150.47 516.77,150.55 517.50,150.63 518.23,150.71 518.96,150.79 519.69,150.87 520.42,150.95 521.15,151.03 521.88,151.11 522.62,151.18 523.35,151.26 524.08,151.34 524.81,151.42 525.54,151.50 526.27,151.58 527.00,151.66 527.73,151.74 528.46,151.82 529.19,151.90 529.92,151.98 530.65,152.06 531.38,152.14 532.12,152.22 532.85,152.30 533.58,152.38 534.31,152.45 535.04,152.53 535.77,152.61 536.50,152.69" fill="none" stroke="#4cadcb" stroke-width="1.35" stroke-linejoin="round"/>
<path d="M327.25,-52.07 327.44,-17.32 327.64,14.70 327.82,39.35 328.00,59.21 328.30,84.83 328.60,100.17 329.10,108.87 329.60,114.14 330.10,117.08 330.80,119.70 331.50,121.50 332.20,122.42 332.80,122.79 333.40,123.07 334.00,123.25 334.60,123.31 335.30,122.84 336.00,121.67 336.70,120.20 337.30,118.43 337.90,116.04 338.50,113.52 339.10,111.07 339.70,108.52 340.30,105.86 340.90,103.08 341.50,100.17 342.17,96.66 342.83,92.83 343.50,88.78 344.17,84.60 344.83,80.39 345.50,76.23 346.17,72.21 346.83,68.44 347.50,65.00 348.23,61.43 348.96,57.87 349.69,54.42 350.41,51.18 351.14,48.23 351.87,45.69 352.60,43.63 353.27,42.07 353.95,40.69 354.62,39.56 355.30,38.74 355.98,38.09 356.65,37.52 357.32,37.11 358.00,36.96 358.64,37.00 359.29,37.12 359.93,37.30 360.57,37.52 361.21,37.77 361.86,38.03 362.50,38.29 363.20,38.58 363.90,38.91 364.60,39.27 365.30,39.66 366.00,40.10 366.70,40.57 367.40,41.10 368.10,41.67 368.80,42.30 369.49,43.06 370.18,44.04 370.87,45.19 371.56,46.48 372.25,47.86 372.94,49.29 373.63,50.74 374.32,52.16 375.01,53.51 375.70,54.76 376.37,55.88 377.03,56.94 377.70,57.98 378.37,59.01 379.03,60.04 379.70,61.09 380.37,62.18 381.03,63.33 381.70,64.56 382.40,65.96 383.10,67.49 383.80,69.09 384.50,70.73 385.20,72.35 385.90,73.90 386.63,75.47 387.36,77.01 388.09,78.53 388.81,80.05 389.54,81.56 390.27,83.07 391.00,84.59 391.68,86.03 392.36,87.49 393.05,88.97 393.73,90.46 394.41,91.94 395.09,93.40 395.77,94.85 396.45,96.25 397.14,97.62 397.82,98.92 398.50,100.17 399.21,101.42 399.93,102.63 400.64,103.82 401.35,104.96 402.06,106.07 402.77,107.12 403.49,108.12 404.20,109.07 404.94,110.01 405.68,110.92 406.42,111.81 407.15,112.68 407.89,113.52 408.63,114.33 409.37,115.12 410.11,115.88 410.85,116.62 411.58,117.33 412.32,118.02 413.06,118.68 413.80,119.31 414.50,119.88 415.20,120.43 415.90,120.95 416.60,121.45 417.30,121.94 418.00,122.41 418.70,122.86 419.40,123.31 420.10,123.76 420.81,124.21 421.52,124.65 422.23,125.08 422.94,125.51 423.65,125.93 424.35,126.33 425.06,126.73 425.77,127.12 426.48,127.50 427.19,127.86 427.90,128.21 428.64,128.56 429.38,128.91 430.12,129.25 430.85,129.57 431.59,129.89 432.33,130.21 433.07,130.51 433.81,130.81 434.55,131.10 435.28,131.39 436.02,131.67 436.76,131.95 437.50,132.22 438.24,132.48 438.98,132.74 439.72,133.00 440.46,133.25 441.21,133.50 441.95,133.74 442.69,133.98 443.43,134.21 444.17,134.44 444.91,134.67 445.65,134.90 446.39,135.12 447.14,135.35 447.88,135.57 448.62,135.79 449.36,136.01 450.10,136.22 450.82,136.44 451.54,136.65 452.26,136.86 452.98,137.08 453.70,137.29 454.42,137.50 455.14,137.71 455.86,137.92 456.58,138.13 457.30,138.34 458.02,138.55 458.74,138.75 459.46,138.96 460.18,139.16 460.90,139.35 461.62,139.55 462.34,139.74 463.06,139.92 463.78,140.11 464.50,140.29 465.22,140.46 465.94,140.64 466.66,140.80 467.38,140.96 468.10,141.12 468.83,141.27 469.56,141.42 470.29,141.57 471.01,141.72 471.74,141.86 472.47,141.99 473.20,142.13 473.93,142.26 474.66,142.39 475.39,142.52 476.11,142.65 476.84,142.77 477.57,142.90 478.30,143.02 479.03,143.14 479.76,143.26 480.49,143.38 481.21,143.50 481.94,143.62 482.67,143.73 483.40,143.85 484.13,143.97 484.86,144.09 485.59,144.20 486.31,144.32 487.04,144.44 487.77,144.56 488.50,144.68 489.22,144.80 489.94,144.92 490.67,145.04 491.39,145.16 492.11,145.29 492.83,145.41 493.56,145.53 494.28,145.65 495.00,145.77 495.72,145.89 496.44,146.01 497.17,146.12 497.89,146.24 498.61,146.36 499.33,146.48 500.06,146.59 500.78,146.71 501.50,146.82 502.22,146.94 502.94,147.05 503.67,147.16 504.39,147.27 505.11,147.38 505.83,147.48 506.56,147.59 507.28,147.69 508.00,147.80 508.73,147.90 509.46,148.00 510.19,148.10 510.92,148.20 511.65,148.30 512.38,148.40 513.12,148.49 513.85,148.59 514.58,148.68 515.31,148.78 516.04,148.87 516.77,148.96 517.50,149.05 518.23,149.14 518.96,149.24 519.69,149.33 520.42,149.41 521.15,149.50 521.88,149.59 522.62,149.68 523.35,149.77 524.08,149.86 524.81,149.94 525.54,150.03 526.27,150.12 527.00,150.21 527.73,150.29 528.46,150.38 529.19,150.47 529.92,150.56 530.65,150.64 531.38,150.73 532.12,150.82 532.85,150.91 533.58,151.00 534.31,151.09 535.04,151.18 535.77,151.27 536.50,151.36" fill="none" stroke="#7f94c9" stroke-width="1.35" stroke-linejoin="round"/>
<path d="M327.25,-52.07 327.44,-17.32 327.64,14.70 327.82,38.97 328.00,59.21 328.25,84.75 328.51,100.17 329.04,108.04 329.57,112.41 330.10,114.86 330.80,117.22 331.50,118.88 332.20,119.75 332.80,120.11 333.40,120.39 334.00,120.58 334.60,120.64 335.30,120.08 336.00,118.72 336.70,117.08 337.30,115.37 337.90,113.19 338.50,110.85 339.10,108.43 339.70,105.84 340.30,103.08 340.90,100.17 341.57,96.67 342.23,92.85 342.90,88.80 343.57,84.62 344.23,80.40 344.90,76.24 345.57,72.22 346.23,68.44 346.90,65.00 347.63,61.43 348.36,57.86 349.09,54.41 349.81,51.15 350.54,48.21 351.27,45.67 352.00,43.63 352.66,42.09 353.32,40.68 353.98,39.46 354.64,38.49 355.30,37.85 355.90,37.44 356.50,37.07 357.10,36.78 357.70,36.58 358.30,36.51 359.00,36.69 359.70,37.17 360.40,37.84 361.10,38.61 361.80,39.39 362.50,40.07 363.14,40.62 363.79,41.15 364.43,41.67 365.07,42.21 365.71,42.78 366.36,43.40 367.00,44.08 367.74,44.97 368.47,46.00 369.21,47.13 369.95,48.34 370.68,49.61 371.42,50.91 372.15,52.22 372.89,53.50 373.63,54.74 374.36,55.91 375.10,56.99 375.81,57.94 376.51,58.86 377.22,59.74 377.93,60.59 378.64,61.42 379.34,62.24 380.05,63.05 380.76,63.85 381.46,64.66 382.17,65.48 382.88,66.32 383.59,67.18 384.29,68.08 385.00,69.01 385.71,69.97 386.41,70.96 387.12,71.98 387.82,73.01 388.53,74.07 389.24,75.14 389.94,76.22 390.65,77.32 391.35,78.42 392.06,79.53 392.76,80.65 393.47,81.76 394.18,82.87 394.88,83.98 395.59,85.08 396.29,86.18 397.00,87.26 397.73,88.37 398.46,89.50 399.19,90.62 399.93,91.75 400.66,92.88 401.39,94.01 402.12,95.14 402.85,96.27 403.58,97.39 404.31,98.51 405.04,99.63 405.77,100.73 406.51,101.83 407.24,102.92 407.97,104.00 408.70,105.06 409.43,106.12 410.16,107.18 410.89,108.23 411.61,109.26 412.34,110.27 413.07,111.25 413.80,112.19 414.50,113.05 415.20,113.90 415.90,114.73 416.60,115.54 417.30,116.33 418.00,117.10 418.70,117.85 419.40,118.59 420.10,119.31 420.81,120.03 421.52,120.75 422.23,121.47 422.94,122.18 423.65,122.87 424.35,123.55 425.06,124.20 425.77,124.81 426.48,125.40 427.19,125.94 427.90,126.43 428.64,126.91 429.38,127.37 430.12,127.80 430.85,128.22 431.59,128.62 432.33,129.01 433.07,129.38 433.81,129.74 434.55,130.08 435.28,130.41 436.02,130.72 436.76,131.03 437.50,131.33 438.24,131.62 438.98,131.89 439.72,132.16 440.46,132.43 441.21,132.68 441.95,132.92 442.69,133.16 443.43,133.40 444.17,133.63 444.91,133.85 445.65,134.07 446.39,134.28 447.14,134.50 447.88,134.71 448.62,134.92 449.36,135.13 450.10,135.33 450.82,135.53 451.54,135.73 452.26,135.93 452.98,136.12 453.70,136.32 454.42,136.51 455.14,136.69 455.86,136.88 456.58,137.07 457.30,137.25 458.02,137.43 458.74,137.61 459.46,137.78 460.18,137.96 460.90,138.13 461.62,138.31 462.34,138.48 463.06,138.65 463.78,138.81 464.50,138.98 465.22,139.14 465.94,139.31 466.66,139.47 467.38,139.63 468.10,139.79 468.83,139.94 469.56,140.10 470.29,140.26 471.01,140.42 471.74,140.58 472.47,140.73 473.20,140.89 473.93,141.04 474.66,141.19 475.39,141.34 476.11,141.49 476.84,141.64 477.57,141.79 478.30,141.94 479.03,142.08 479.76,142.22 480.49,142.37 481.21,142.51 481.94,142.64 482.67,142.78 483.40,142.91 484.13,143.04 484.86,143.17 485.59,143.30 486.31,143.43 487.04,143.55 487.77,143.67 488.50,143.79 489.22,143.91 489.94,144.02 490.67,144.13 491.39,144.24 492.11,144.35 492.83,144.45 493.56,144.56 494.28,144.66 495.00,144.76 495.72,144.86 496.44,144.96 497.17,145.06 497.89,145.15 498.61,145.25 499.33,145.34 500.06,145.44 500.78,145.53 501.50,145.62 502.22,145.72 502.94,145.81 503.67,145.90 504.39,146.00 505.11,146.09 505.83,146.18 506.56,146.27 507.28,146.37 508.00,146.46 508.73,146.56 509.46,146.65 510.19,146.75 510.92,146.84 511.65,146.94 512.38,147.03 513.12,147.12 513.85,147.22 514.58,147.31 515.31,147.40 516.04,147.49 516.77,147.58 517.50,147.68 518.23,147.77 518.96,147.86 519.69,147.95 520.42,148.04 521.15,148.13 521.88,148.22 522.62,148.31 523.35,148.40 524.08,148.49 524.81,148.58 525.54,148.67 526.27,148.76 527.00,148.85 527.73,148.94 528.46,149.03 529.19,149.12 529.92,149.21 530.65,149.30 531.38,149.39 532.12,149.48 532.85,149.57 533.58,149.66 534.31,149.75 535.04,149.84 535.77,149.93 536.50,150.02" fill="none" stroke="#5256a2" stroke-width="1.35" stroke-linejoin="round"/>
</g>
<text transform="translate(331.3,32.1) scale(0.8,1)" x="0" y="0" style="font-family:'Liberation Sans',sans-serif;fill:#000;stroke:#000;stroke-width:0.6px" font-size="15" font-weight="bold">B</text>
<text x="395.5" y="33" font-size="12" text-anchor="middle">AFm</text>
<text x="395.5" y="47.5" font-size="12" text-anchor="middle">phases</text>
<line x1="398.6" y1="51.5" x2="392.4" y2="65.5" stroke="#5262b4" stroke-width="0.9"/>
<path d="M389.4,63.8 L395.2,66.2 L390.6,70.0 Z" fill="#1a2aa0"/>
<line x1="464.00" y1="24.40" x2="487.00" y2="24.40" stroke="#333333" stroke-width="2" stroke-dasharray="3.5,1.1"/>
<text x="489.40" y="28.60" font-size="12">REF</text>
<line x1="464.00" y1="37.00" x2="487.00" y2="37.00" stroke="#4cadcb" stroke-width="1.6"/>
<text x="489.40" y="41.20" font-size="12">BA40</text>
<line x1="464.00" y1="49.80" x2="487.00" y2="49.80" stroke="#7f94c9" stroke-width="1.6"/>
<text x="489.40" y="54.00" font-size="12">MBA40</text>
<line x1="464.00" y1="62.70" x2="487.00" y2="62.70" stroke="#5256a2" stroke-width="1.6"/>
<text x="489.40" y="66.90" font-size="12">cMBA40</text>
<line x1="388.00" y1="72.00" x2="388.00" y2="368.00" stroke="#5a5a5a" stroke-width="1.25" stroke-dasharray="1.4,1.9"/>
<line x1="54.50" y1="367.20" x2="54.50" y2="363.70" stroke="#6b6b6b" stroke-width="1.3"/>
<line x1="84.23" y1="367.20" x2="84.23" y2="363.70" stroke="#6b6b6b" stroke-width="1.3"/>
<line x1="113.96" y1="367.20" x2="113.96" y2="363.70" stroke="#6b6b6b" stroke-width="1.3"/>
<line x1="143.69" y1="367.20" x2="143.69" y2="363.70" stroke="#6b6b6b" stroke-width="1.3"/>
<line x1="173.41" y1="367.20" x2="173.41" y2="363.70" stroke="#6b6b6b" stroke-width="1.3"/>
<line x1="203.14" y1="367.20" x2="203.14" y2="363.70" stroke="#6b6b6b" stroke-width="1.3"/>
<line x1="232.87" y1="367.20" x2="232.87" y2="363.70" stroke="#6b6b6b" stroke-width="1.3"/>
<line x1="262.60" y1="367.20" x2="262.60" y2="363.70" stroke="#6b6b6b" stroke-width="1.3"/>
<line x1="54.50" y1="367.20" x2="58.00" y2="367.20" stroke="#6b6b6b" stroke-width="1.3"/>
<text x="43.50" y="371.20" font-size="12" text-anchor="end">0</text>
<line x1="54.50" y1="347.80" x2="58.00" y2="347.80" stroke="#6b6b6b" stroke-width="1.3"/>
<text x="43.50" y="351.80" font-size="12" text-anchor="end">50</text>
<line x1="54.50" y1="328.40" x2="58.00" y2="328.40" stroke="#6b6b6b" stroke-width="1.3"/>
<text x="43.50" y="332.40" font-size="12" text-anchor="end">100</text>
<line x1="54.50" y1="309.00" x2="58.00" y2="309.00" stroke="#6b6b6b" stroke-width="1.3"/>
<text x="43.50" y="313.00" font-size="12" text-anchor="end">150</text>
<line x1="54.50" y1="289.60" x2="58.00" y2="289.60" stroke="#6b6b6b" stroke-width="1.3"/>
<text x="43.50" y="293.60" font-size="12" text-anchor="end">200</text>
<line x1="54.50" y1="270.20" x2="58.00" y2="270.20" stroke="#6b6b6b" stroke-width="1.3"/>
<text x="43.50" y="274.20" font-size="12" text-anchor="end">250</text>
<line x1="54.50" y1="250.80" x2="58.00" y2="250.80" stroke="#6b6b6b" stroke-width="1.3"/>
<text x="43.50" y="254.80" font-size="12" text-anchor="end">300</text>
<line x1="54.50" y1="231.40" x2="58.00" y2="231.40" stroke="#6b6b6b" stroke-width="1.3"/>
<text x="43.50" y="235.40" font-size="12" text-anchor="end">350</text>
<line x1="54.50" y1="212.00" x2="58.00" y2="212.00" stroke="#6b6b6b" stroke-width="1.3"/>
<text x="43.50" y="216.00" font-size="12" text-anchor="end">400</text>
<text x="54.50" y="385.40" font-size="12" text-anchor="middle">0</text>
<text x="84.23" y="385.40" font-size="12" text-anchor="middle">10</text>
<text x="113.96" y="385.40" font-size="12" text-anchor="middle">20</text>
<text x="143.69" y="385.40" font-size="12" text-anchor="middle">30</text>
<text x="173.41" y="385.40" font-size="12" text-anchor="middle">40</text>
<text x="203.14" y="385.40" font-size="12" text-anchor="middle">50</text>
<text x="232.87" y="385.40" font-size="12" text-anchor="middle">60</text>
<text x="262.60" y="385.40" font-size="12" text-anchor="middle">70</text>
<text x="158.55" y="397.20" font-size="12" text-anchor="middle">Time (h)</text>
<text transform="translate(21.70,290.00) rotate(-90)" font-size="12" text-anchor="middle">Cumulative heat release (J/g)</text>
<rect x="54.50" y="212.00" width="208.10" height="155.20" fill="none" stroke="#6b6b6b" stroke-width="1.6"/>
<g clip-path="url(#clC)">
<path d="M54.86,367.20 54.90,365.19 54.95,363.32 55.02,360.56 55.09,358.66 55.24,357.10 55.39,356.34 55.84,355.58 56.28,355.17 56.83,354.71 57.37,354.33 57.92,354.01 58.59,353.65 59.26,353.33 59.93,353.04 60.59,352.77 61.26,352.51 61.93,352.25 62.38,352.10 62.82,351.94 63.27,351.78 63.72,351.62 64.16,351.45 64.61,351.27 65.05,351.09 65.50,350.90 65.95,350.70 66.39,350.50 66.84,350.28 67.28,350.06 67.73,349.83 68.18,349.59 68.62,349.34 69.07,349.08 69.51,348.81 69.96,348.53 70.40,348.24 70.85,347.94 71.30,347.62 71.74,347.30 72.19,346.96 72.63,346.62 73.08,346.26 73.53,345.88 73.97,345.50 74.42,345.10 74.86,344.69 75.31,344.27 75.76,343.83 76.20,343.38 76.65,342.92 77.09,342.44 77.54,341.95 77.99,341.45 78.43,340.93 78.88,340.40 79.32,339.85 79.77,339.30 80.22,338.73 80.66,338.15 81.11,337.56 81.55,336.96 82.00,336.35 82.44,335.73 82.89,335.11 83.34,334.48 83.78,333.85 84.23,333.21 84.67,332.56 85.12,331.92 85.57,331.27 86.01,330.62 86.46,329.97 86.90,329.33 87.35,328.68 87.80,328.04 88.24,327.40 88.69,326.77 89.13,326.13 89.58,325.50 90.03,324.87 90.47,324.25 90.92,323.63 91.36,323.01 91.81,322.39 92.26,321.78 92.70,321.17 93.15,320.57 93.59,319.97 94.04,319.37 94.48,318.78 94.93,318.19 95.38,317.60 95.82,317.02 96.27,316.44 96.71,315.87 97.16,315.30 97.61,314.74 98.05,314.17 98.50,313.62 98.94,313.06 99.39,312.52 99.84,311.97 100.28,311.43 100.73,310.90 101.17,310.36 101.62,309.84 102.07,309.31 102.51,308.79 102.96,308.28 103.40,307.76 103.85,307.26 104.30,306.75 104.74,306.25 105.19,305.76 105.63,305.27 106.08,304.78 106.52,304.30 106.97,303.82 107.42,303.35 107.86,302.88 108.31,302.41 108.75,301.95 109.20,301.49 109.65,301.04 110.09,300.59 110.54,300.15 110.98,299.71 111.43,299.28 111.88,298.85 112.32,298.42 112.77,298.00 113.21,297.59 113.66,297.18 114.11,296.77 114.55,296.37 115.00,295.98 115.44,295.59 115.89,295.20 116.34,294.82 116.78,294.44 117.23,294.07 117.67,293.70 118.12,293.34 118.57,292.98 119.01,292.62 119.46,292.27 119.90,291.93 120.35,291.58 120.79,291.24 121.24,290.91 121.69,290.58 122.13,290.25 122.58,289.92 123.02,289.60 123.47,289.29 123.92,288.97 124.36,288.66 124.81,288.35 125.25,288.05 125.70,287.74 126.15,287.44 126.59,287.15 127.04,286.85 127.48,286.56 127.93,286.28 128.38,285.99 128.82,285.71 129.27,285.43 129.71,285.15 130.16,284.88 130.61,284.61 131.05,284.34 131.50,284.07 131.94,283.81 132.39,283.54 132.83,283.28 133.28,283.03 133.73,282.77 134.17,282.52 134.62,282.27 135.06,282.03 135.51,281.78 135.96,281.54 136.40,281.30 136.85,281.06 137.29,280.82 137.74,280.59 138.19,280.36 138.63,280.13 139.08,279.90 139.52,279.67 139.97,279.45 140.42,279.23 140.86,279.01 141.31,278.79 141.75,278.57 142.20,278.36 142.65,278.15 143.09,277.94 143.54,277.73 143.98,277.52 144.43,277.32 144.87,277.11 145.32,276.91 145.77,276.71 146.21,276.51 146.66,276.32 147.10,276.12 147.55,275.93 148.00,275.73 148.44,275.54 148.89,275.35 149.33,275.17 149.78,274.98 150.23,274.80 150.67,274.61 151.12,274.43 151.56,274.25 152.01,274.07 152.46,273.89 152.90,273.71 153.35,273.54 153.79,273.36 154.24,273.19 154.69,273.02 155.13,272.85 155.58,272.68 156.02,272.51 156.47,272.34 156.91,272.18 157.36,272.01 157.81,271.85 158.25,271.69 158.70,271.53 159.14,271.37 159.59,271.21 160.04,271.05 160.48,270.89 160.93,270.73 161.37,270.58 161.82,270.43 162.27,270.27 162.71,270.12 163.16,269.97 163.60,269.82 164.05,269.67 164.50,269.52 164.94,269.38 165.39,269.23 165.83,269.08 166.28,268.94 166.73,268.80 167.17,268.65 167.62,268.51 168.06,268.37 168.51,268.23 168.95,268.09 169.40,267.96 169.85,267.82 170.29,267.68 170.74,267.55 171.18,267.41 171.63,267.28 172.08,267.15 172.52,267.01 172.97,266.88 173.41,266.75 173.86,266.62 174.31,266.49 174.75,266.36 175.20,266.23 175.64,266.10 176.09,265.98 176.54,265.85 176.98,265.72 177.43,265.60 177.87,265.47 178.32,265.35 178.77,265.23 179.21,265.10 179.66,264.98 180.10,264.86 180.55,264.74 181.00,264.61 181.44,264.49 181.89,264.37 182.33,264.25 182.78,264.13 183.22,264.02 183.67,263.90 184.12,263.78 184.56,263.66 185.01,263.55 185.45,263.43 185.90,263.31 186.35,263.20 186.79,263.08 187.24,262.97 187.68,262.85 188.13,262.74 188.58,262.63 189.02,262.51 189.47,262.40 189.91,262.29 190.36,262.18 190.81,262.06 191.25,261.95 191.70,261.84 192.14,261.73 192.59,261.62 193.04,261.51 193.48,261.40 193.93,261.29 194.37,261.19 194.82,261.08 195.26,260.97 195.71,260.86 196.16,260.76 196.60,260.65 197.05,260.54 197.49,260.44 197.94,260.33 198.39,260.23 198.83,260.12 199.28,260.02 199.72,259.91 200.17,259.81 200.62,259.71 201.06,259.60 201.51,259.50 201.95,259.40 202.40,259.30 202.85,259.19 203.29,259.09 203.74,258.99 204.18,258.89 204.63,258.79 205.08,258.69 205.52,258.59 205.97,258.49 206.41,258.39 206.86,258.29 207.30,258.19 207.75,258.09 208.20,257.99 208.64,257.89 209.09,257.79 209.53,257.69 209.98,257.59 210.43,257.50 210.87,257.40 211.32,257.30 211.76,257.20 212.21,257.10 212.66,257.01 213.10,256.91 213.55,256.81 213.99,256.72 214.44,256.62 214.89,256.52 215.33,256.43 215.78,256.33 216.22,256.24 216.67,256.14 217.12,256.05 217.56,255.95 218.01,255.85 218.45,255.76 218.90,255.67 219.34,255.57 219.79,255.48 220.24,255.38 220.68,255.29 221.13,255.19 221.57,255.10 222.02,255.01 222.47,254.91 222.91,254.82 223.36,254.73 223.80,254.63 224.25,254.54 224.70,254.45 225.14,254.36 225.59,254.26 226.03,254.17 226.48,254.08 226.93,253.99 227.37,253.90 227.82,253.80 228.26,253.71 228.71,253.62 229.16,253.53 229.60,253.44 230.05,253.35 230.49,253.26 230.94,253.17 231.38,253.08 231.83,252.99 232.28,252.90 232.72,252.81 233.17,252.72 233.61,252.63 234.06,252.54 234.51,252.46 234.95,252.37 235.40,252.28 235.84,252.19 236.29,252.10 236.74,252.02 237.18,251.93 237.63,251.84 238.07,251.76 238.52,251.67 238.97,251.58 239.41,251.50 239.86,251.41 240.30,251.32 240.75,251.24 241.20,251.15 241.64,251.07 242.09,250.98 242.53,250.90 242.98,250.81 243.43,250.73 243.87,250.65 244.32,250.56 244.76,250.48 245.21,250.40 245.65,250.31 246.10,250.23 246.55,250.15 246.99,250.06 247.44,249.98 247.88,249.90 248.33,249.82 248.78,249.74 249.22,249.65 249.67,249.57 250.11,249.49 250.56,249.41 251.01,249.33 251.45,249.25 251.90,249.17 252.34,249.09 252.79,249.01 253.24,248.93 253.68,248.85 254.13,248.77 254.57,248.70 255.02,248.62 255.47,248.54 255.91,248.46 256.36,248.38 256.80,248.31 257.25,248.23 257.69,248.15 258.14,248.08 258.59,248.00 259.03,247.92 259.48,247.85 259.92,247.77 260.37,247.69 260.82,247.62 261.26,247.54 261.71,247.47 262.15,247.38 262.60,247.32 262.60,247.32 262.60,247.32" fill="none" stroke="#333333" stroke-width="1.45" stroke-dasharray="3.4,1.2" stroke-linejoin="round"/>
<path d="M54.86,367.20 54.90,365.19 54.95,363.32 55.02,360.59 55.09,358.66 55.24,356.87 55.39,355.95 55.84,354.92 56.28,354.40 56.83,353.91 57.37,353.54 57.92,353.23 58.59,352.89 59.26,352.59 59.93,352.32 60.59,352.07 61.26,351.82 61.93,351.56 62.38,351.39 62.82,351.22 63.27,351.05 63.72,350.87 64.16,350.69 64.61,350.51 65.05,350.32 65.50,350.13 65.95,349.94 66.39,349.74 66.84,349.53 67.28,349.31 67.73,349.09 68.18,348.86 68.62,348.63 69.07,348.38 69.51,348.12 69.96,347.86 70.40,347.58 70.85,347.30 71.30,347.00 71.74,346.69 72.19,346.37 72.63,346.04 73.08,345.70 73.53,345.34 73.97,344.98 74.42,344.60 74.86,344.22 75.31,343.83 75.76,343.42 76.20,343.01 76.65,342.59 77.09,342.15 77.54,341.71 77.99,341.25 78.43,340.78 78.88,340.30 79.32,339.81 79.77,339.30 80.22,338.79 80.66,338.26 81.11,337.72 81.55,337.17 82.00,336.61 82.44,336.04 82.89,335.47 83.34,334.89 83.78,334.30 84.23,333.71 84.67,333.11 85.12,332.51 85.57,331.91 86.01,331.30 86.46,330.69 86.90,330.08 87.35,329.47 87.80,328.86 88.24,328.25 88.69,327.64 89.13,327.03 89.58,326.42 90.03,325.82 90.47,325.21 90.92,324.61 91.36,324.01 91.81,323.41 92.26,322.81 92.70,322.22 93.15,321.63 93.59,321.04 94.04,320.45 94.48,319.86 94.93,319.28 95.38,318.70 95.82,318.13 96.27,317.55 96.71,316.98 97.16,316.41 97.61,315.85 98.05,315.29 98.50,314.73 98.94,314.18 99.39,313.63 99.84,313.09 100.28,312.55 100.73,312.02 101.17,311.48 101.62,310.96 102.07,310.44 102.51,309.92 102.96,309.40 103.40,308.89 103.85,308.38 104.30,307.88 104.74,307.38 105.19,306.88 105.63,306.39 106.08,305.90 106.52,305.42 106.97,304.94 107.42,304.46 107.86,303.98 108.31,303.51 108.75,303.05 109.20,302.59 109.65,302.13 110.09,301.67 110.54,301.22 110.98,300.78 111.43,300.34 111.88,299.90 112.32,299.46 112.77,299.03 113.21,298.61 113.66,298.18 114.11,297.77 114.55,297.35 115.00,296.94 115.44,296.53 115.89,296.13 116.34,295.73 116.78,295.33 117.23,294.94 117.67,294.55 118.12,294.17 118.57,293.78 119.01,293.40 119.46,293.03 119.90,292.65 120.35,292.28 120.79,291.92 121.24,291.55 121.69,291.19 122.13,290.83 122.58,290.48 123.02,290.12 123.47,289.77 123.92,289.43 124.36,289.08 124.81,288.74 125.25,288.40 125.70,288.06 126.15,287.73 126.59,287.40 127.04,287.07 127.48,286.75 127.93,286.42 128.38,286.10 128.82,285.79 129.27,285.47 129.71,285.16 130.16,284.85 130.61,284.55 131.05,284.24 131.50,283.94 131.94,283.64 132.39,283.35 132.83,283.05 133.28,282.76 133.73,282.48 134.17,282.19 134.62,281.91 135.06,281.63 135.51,281.35 135.96,281.07 136.40,280.80 136.85,280.53 137.29,280.26 137.74,279.99 138.19,279.73 138.63,279.47 139.08,279.21 139.52,278.95 139.97,278.70 140.42,278.45 140.86,278.20 141.31,277.95 141.75,277.71 142.20,277.46 142.65,277.22 143.09,276.98 143.54,276.75 143.98,276.52 144.43,276.28 144.87,276.05 145.32,275.83 145.77,275.60 146.21,275.38 146.66,275.16 147.10,274.94 147.55,274.72 148.00,274.51 148.44,274.29 148.89,274.08 149.33,273.87 149.78,273.66 150.23,273.45 150.67,273.25 151.12,273.04 151.56,272.84 152.01,272.64 152.46,272.44 152.90,272.24 153.35,272.04 153.79,271.85 154.24,271.66 154.69,271.46 155.13,271.27 155.58,271.08 156.02,270.89 156.47,270.70 156.91,270.52 157.36,270.33 157.81,270.15 158.25,269.97 158.70,269.79 159.14,269.61 159.59,269.43 160.04,269.25 160.48,269.08 160.93,268.90 161.37,268.73 161.82,268.56 162.27,268.39 162.71,268.22 163.16,268.05 163.60,267.88 164.05,267.72 164.50,267.55 164.94,267.39 165.39,267.23 165.83,267.07 166.28,266.91 166.73,266.75 167.17,266.60 167.62,266.44 168.06,266.29 168.51,266.13 168.95,265.98 169.40,265.83 169.85,265.68 170.29,265.53 170.74,265.38 171.18,265.23 171.63,265.08 172.08,264.93 172.52,264.79 172.97,264.64 173.41,264.50 173.86,264.36 174.31,264.22 174.75,264.07 175.20,263.93 175.64,263.79 176.09,263.66 176.54,263.52 176.98,263.38 177.43,263.24 177.87,263.11 178.32,262.97 178.77,262.84 179.21,262.71 179.66,262.57 180.10,262.44 180.55,262.31 181.00,262.18 181.44,262.05 181.89,261.92 182.33,261.79 182.78,261.67 183.22,261.54 183.67,261.41 184.12,261.29 184.56,261.16 185.01,261.04 185.45,260.91 185.90,260.79 186.35,260.67 186.79,260.54 187.24,260.42 187.68,260.30 188.13,260.18 188.58,260.06 189.02,259.94 189.47,259.82 189.91,259.70 190.36,259.58 190.81,259.47 191.25,259.35 191.70,259.23 192.14,259.12 192.59,259.00 193.04,258.88 193.48,258.77 193.93,258.65 194.37,258.54 194.82,258.42 195.26,258.31 195.71,258.20 196.16,258.08 196.60,257.97 197.05,257.86 197.49,257.75 197.94,257.63 198.39,257.52 198.83,257.41 199.28,257.30 199.72,257.19 200.17,257.08 200.62,256.97 201.06,256.86 201.51,256.75 201.95,256.64 202.40,256.53 202.85,256.43 203.29,256.32 203.74,256.21 204.18,256.10 204.63,255.99 205.08,255.89 205.52,255.78 205.97,255.67 206.41,255.57 206.86,255.46 207.30,255.35 207.75,255.25 208.20,255.14 208.64,255.04 209.09,254.93 209.53,254.83 209.98,254.72 210.43,254.62 210.87,254.52 211.32,254.41 211.76,254.31 212.21,254.21 212.66,254.10 213.10,254.00 213.55,253.90 213.99,253.80 214.44,253.69 214.89,253.59 215.33,253.49 215.78,253.39 216.22,253.29 216.67,253.19 217.12,253.09 217.56,252.98 218.01,252.88 218.45,252.78 218.90,252.68 219.34,252.58 219.79,252.48 220.24,252.38 220.68,252.29 221.13,252.19 221.57,252.09 222.02,251.99 222.47,251.89 222.91,251.79 223.36,251.69 223.80,251.60 224.25,251.50 224.70,251.40 225.14,251.30 225.59,251.21 226.03,251.11 226.48,251.01 226.93,250.92 227.37,250.82 227.82,250.72 228.26,250.63 228.71,250.53 229.16,250.44 229.60,250.34 230.05,250.25 230.49,250.15 230.94,250.06 231.38,249.96 231.83,249.87 232.28,249.78 232.72,249.68 233.17,249.59 233.61,249.50 234.06,249.40 234.51,249.31 234.95,249.22 235.40,249.12 235.84,249.03 236.29,248.94 236.74,248.85 237.18,248.76 237.63,248.67 238.07,248.58 238.52,248.48 238.97,248.39 239.41,248.30 239.86,248.21 240.30,248.12 240.75,248.03 241.20,247.94 241.64,247.85 242.09,247.77 242.53,247.68 242.98,247.59 243.43,247.50 243.87,247.41 244.32,247.32 244.76,247.24 245.21,247.15 245.65,247.06 246.10,246.97 246.55,246.89 246.99,246.80 247.44,246.71 247.88,246.63 248.33,246.54 248.78,246.46 249.22,246.37 249.67,246.29 250.11,246.20 250.56,246.12 251.01,246.03 251.45,245.95 251.90,245.86 252.34,245.78 252.79,245.69 253.24,245.61 253.68,245.53 254.13,245.44 254.57,245.36 255.02,245.28 255.47,245.20 255.91,245.11 256.36,245.03 256.80,244.95 257.25,244.87 257.69,244.79 258.14,244.71 258.59,244.62 259.03,244.54 259.48,244.46 259.92,244.38 260.37,244.30 260.82,244.22 261.26,244.14 261.71,244.06 262.15,243.97 262.60,243.91 262.60,243.91 262.60,243.91" fill="none" stroke="#d6b458" stroke-width="1.35" stroke-linejoin="round"/>
<path d="M54.86,367.20 54.90,365.19 54.95,363.32 55.02,360.61 55.09,358.66 55.24,356.62 55.39,355.56 55.84,354.52 56.28,354.01 56.83,353.52 57.37,353.16 57.92,352.84 58.59,352.48 59.26,352.15 59.93,351.85 60.59,351.57 61.26,351.29 61.93,351.02 62.38,350.84 62.82,350.67 63.27,350.49 63.72,350.31 64.16,350.13 64.61,349.94 65.05,349.75 65.50,349.55 65.95,349.35 66.39,349.14 66.84,348.92 67.28,348.70 67.73,348.47 68.18,348.22 68.62,347.97 69.07,347.70 69.51,347.42 69.96,347.12 70.40,346.82 70.85,346.50 71.30,346.17 71.74,345.82 72.19,345.46 72.63,345.09 73.08,344.71 73.53,344.31 73.97,343.90 74.42,343.48 74.86,343.05 75.31,342.60 75.76,342.14 76.20,341.67 76.65,341.18 77.09,340.67 77.54,340.16 77.99,339.62 78.43,339.08 78.88,338.53 79.32,337.96 79.77,337.38 80.22,336.80 80.66,336.20 81.11,335.59 81.55,334.98 82.00,334.36 82.44,333.73 82.89,333.10 83.34,332.46 83.78,331.82 84.23,331.17 84.67,330.52 85.12,329.86 85.57,329.21 86.01,328.55 86.46,327.89 86.90,327.24 87.35,326.59 87.80,325.93 88.24,325.28 88.69,324.63 89.13,323.98 89.58,323.33 90.03,322.69 90.47,322.05 90.92,321.42 91.36,320.79 91.81,320.16 92.26,319.54 92.70,318.91 93.15,318.30 93.59,317.68 94.04,317.07 94.48,316.46 94.93,315.85 95.38,315.25 95.82,314.65 96.27,314.05 96.71,313.45 97.16,312.86 97.61,312.27 98.05,311.69 98.50,311.11 98.94,310.53 99.39,309.96 99.84,309.39 100.28,308.83 100.73,308.26 101.17,307.71 101.62,307.16 102.07,306.61 102.51,306.07 102.96,305.53 103.40,304.99 103.85,304.46 104.30,303.93 104.74,303.41 105.19,302.89 105.63,302.38 106.08,301.87 106.52,301.36 106.97,300.86 107.42,300.36 107.86,299.87 108.31,299.38 108.75,298.89 109.20,298.41 109.65,297.94 110.09,297.47 110.54,297.00 110.98,296.53 111.43,296.07 111.88,295.62 112.32,295.16 112.77,294.72 113.21,294.27 113.66,293.83 114.11,293.39 114.55,292.96 115.00,292.53 115.44,292.10 115.89,291.68 116.34,291.26 116.78,290.85 117.23,290.44 117.67,290.03 118.12,289.62 118.57,289.22 119.01,288.82 119.46,288.43 119.90,288.04 120.35,287.65 120.79,287.27 121.24,286.89 121.69,286.51 122.13,286.14 122.58,285.77 123.02,285.40 123.47,285.04 123.92,284.68 124.36,284.32 124.81,283.97 125.25,283.62 125.70,283.27 126.15,282.93 126.59,282.59 127.04,282.26 127.48,281.93 127.93,281.60 128.38,281.27 128.82,280.95 129.27,280.64 129.71,280.32 130.16,280.01 130.61,279.71 131.05,279.41 131.50,279.11 131.94,278.81 132.39,278.52 132.83,278.24 133.28,277.95 133.73,277.67 134.17,277.40 134.62,277.13 135.06,276.86 135.51,276.60 135.96,276.34 136.40,276.08 136.85,275.83 137.29,275.58 137.74,275.33 138.19,275.09 138.63,274.85 139.08,274.61 139.52,274.37 139.97,274.14 140.42,273.91 140.86,273.68 141.31,273.45 141.75,273.23 142.20,273.00 142.65,272.78 143.09,272.56 143.54,272.35 143.98,272.13 144.43,271.92 144.87,271.71 145.32,271.50 145.77,271.29 146.21,271.09 146.66,270.88 147.10,270.68 147.55,270.48 148.00,270.28 148.44,270.08 148.89,269.88 149.33,269.69 149.78,269.50 150.23,269.30 150.67,269.11 151.12,268.92 151.56,268.74 152.01,268.55 152.46,268.36 152.90,268.18 153.35,268.00 153.79,267.82 154.24,267.64 154.69,267.46 155.13,267.28 155.58,267.10 156.02,266.93 156.47,266.75 156.91,266.58 157.36,266.41 157.81,266.24 158.25,266.07 158.70,265.90 159.14,265.73 159.59,265.56 160.04,265.40 160.48,265.23 160.93,265.07 161.37,264.91 161.82,264.75 162.27,264.58 162.71,264.43 163.16,264.27 163.60,264.11 164.05,263.95 164.50,263.80 164.94,263.64 165.39,263.49 165.83,263.33 166.28,263.18 166.73,263.03 167.17,262.88 167.62,262.73 168.06,262.58 168.51,262.43 168.95,262.28 169.40,262.14 169.85,261.99 170.29,261.84 170.74,261.70 171.18,261.55 171.63,261.41 172.08,261.27 172.52,261.13 172.97,260.98 173.41,260.84 173.86,260.70 174.31,260.56 174.75,260.43 175.20,260.29 175.64,260.15 176.09,260.01 176.54,259.88 176.98,259.74 177.43,259.61 177.87,259.47 178.32,259.34 178.77,259.21 179.21,259.07 179.66,258.94 180.10,258.81 180.55,258.68 181.00,258.55 181.44,258.42 181.89,258.29 182.33,258.16 182.78,258.04 183.22,257.91 183.67,257.78 184.12,257.66 184.56,257.53 185.01,257.41 185.45,257.28 185.90,257.16 186.35,257.03 186.79,256.91 187.24,256.79 187.68,256.67 188.13,256.55 188.58,256.42 189.02,256.30 189.47,256.18 189.91,256.06 190.36,255.94 190.81,255.83 191.25,255.71 191.70,255.59 192.14,255.47 192.59,255.35 193.04,255.24 193.48,255.12 193.93,255.01 194.37,254.89 194.82,254.77 195.26,254.66 195.71,254.54 196.16,254.43 196.60,254.32 197.05,254.20 197.49,254.09 197.94,253.98 198.39,253.87 198.83,253.75 199.28,253.64 199.72,253.53 200.17,253.42 200.62,253.31 201.06,253.20 201.51,253.09 201.95,252.98 202.40,252.87 202.85,252.76 203.29,252.65 203.74,252.54 204.18,252.43 204.63,252.32 205.08,252.21 205.52,252.11 205.97,252.00 206.41,251.89 206.86,251.78 207.30,251.68 207.75,251.57 208.20,251.46 208.64,251.36 209.09,251.25 209.53,251.14 209.98,251.04 210.43,250.93 210.87,250.83 211.32,250.72 211.76,250.62 212.21,250.51 212.66,250.41 213.10,250.30 213.55,250.20 213.99,250.09 214.44,249.99 214.89,249.89 215.33,249.78 215.78,249.68 216.22,249.58 216.67,249.47 217.12,249.37 217.56,249.27 218.01,249.17 218.45,249.06 218.90,248.96 219.34,248.86 219.79,248.76 220.24,248.66 220.68,248.55 221.13,248.45 221.57,248.35 222.02,248.25 222.47,248.15 222.91,248.05 223.36,247.95 223.80,247.85 224.25,247.75 224.70,247.65 225.14,247.55 225.59,247.45 226.03,247.35 226.48,247.25 226.93,247.15 227.37,247.05 227.82,246.95 228.26,246.85 228.71,246.76 229.16,246.66 229.60,246.56 230.05,246.46 230.49,246.36 230.94,246.27 231.38,246.17 231.83,246.07 232.28,245.97 232.72,245.88 233.17,245.78 233.61,245.68 234.06,245.59 234.51,245.49 234.95,245.40 235.40,245.30 235.84,245.21 236.29,245.11 236.74,245.02 237.18,244.92 237.63,244.83 238.07,244.73 238.52,244.64 238.97,244.54 239.41,244.45 239.86,244.36 240.30,244.26 240.75,244.17 241.20,244.08 241.64,243.99 242.09,243.89 242.53,243.80 242.98,243.71 243.43,243.62 243.87,243.53 244.32,243.44 244.76,243.34 245.21,243.25 245.65,243.16 246.10,243.07 246.55,242.98 246.99,242.89 247.44,242.80 247.88,242.71 248.33,242.62 248.78,242.54 249.22,242.45 249.67,242.36 250.11,242.27 250.56,242.18 251.01,242.09 251.45,242.01 251.90,241.92 252.34,241.83 252.79,241.74 253.24,241.66 253.68,241.57 254.13,241.48 254.57,241.40 255.02,241.31 255.47,241.23 255.91,241.14 256.36,241.06 256.80,240.97 257.25,240.89 257.69,240.80 258.14,240.72 258.59,240.63 259.03,240.55 259.48,240.47 259.92,240.38 260.37,240.30 260.82,240.22 261.26,240.13 261.71,240.05 262.15,239.95 262.60,239.89 262.60,239.89 262.60,239.89" fill="none" stroke="#d99b74" stroke-width="1.35" stroke-linejoin="round"/>
<path d="M54.86,367.20 54.90,365.19 54.95,363.32 55.02,360.61 55.09,358.66 55.24,356.62 55.39,355.56 55.84,354.52 56.28,354.01 56.83,353.52 57.37,353.15 57.92,352.84 58.59,352.50 59.26,352.20 59.93,351.92 60.59,351.67 61.26,351.41 61.93,351.16 62.38,350.98 62.82,350.81 63.27,350.64 63.72,350.46 64.16,350.29 64.61,350.10 65.05,349.92 65.50,349.73 65.95,349.54 66.39,349.34 66.84,349.13 67.28,348.92 67.73,348.68 68.18,348.43 68.62,348.15 69.07,347.85 69.51,347.54 69.96,347.22 70.40,346.90 70.85,346.56 71.30,346.21 71.74,345.86 72.19,345.49 72.63,345.11 73.08,344.73 73.53,344.33 73.97,343.93 74.42,343.51 74.86,343.09 75.31,342.66 75.76,342.22 76.20,341.77 76.65,341.31 77.09,340.84 77.54,340.37 77.99,339.88 78.43,339.39 78.88,338.88 79.32,338.37 79.77,337.85 80.22,337.33 80.66,336.79 81.11,336.25 81.55,335.70 82.00,335.14 82.44,334.57 82.89,334.00 83.34,333.42 83.78,332.83 84.23,332.24 84.67,331.64 85.12,331.05 85.57,330.45 86.01,329.85 86.46,329.24 86.90,328.64 87.35,328.04 87.80,327.44 88.24,326.84 88.69,326.24 89.13,325.64 89.58,325.05 90.03,324.46 90.47,323.87 90.92,323.28 91.36,322.70 91.81,322.12 92.26,321.54 92.70,320.97 93.15,320.40 93.59,319.83 94.04,319.27 94.48,318.71 94.93,318.15 95.38,317.60 95.82,317.05 96.27,316.50 96.71,315.96 97.16,315.42 97.61,314.88 98.05,314.35 98.50,313.81 98.94,313.29 99.39,312.76 99.84,312.24 100.28,311.73 100.73,311.21 101.17,310.70 101.62,310.20 102.07,309.69 102.51,309.19 102.96,308.70 103.40,308.20 103.85,307.71 104.30,307.22 104.74,306.74 105.19,306.26 105.63,305.78 106.08,305.31 106.52,304.84 106.97,304.37 107.42,303.91 107.86,303.45 108.31,302.99 108.75,302.53 109.20,302.08 109.65,301.64 110.09,301.19 110.54,300.75 110.98,300.32 111.43,299.88 111.88,299.45 112.32,299.03 112.77,298.61 113.21,298.19 113.66,297.77 114.11,297.36 114.55,296.95 115.00,296.55 115.44,296.15 115.89,295.75 116.34,295.35 116.78,294.96 117.23,294.57 117.67,294.19 118.12,293.81 118.57,293.43 119.01,293.06 119.46,292.68 119.90,292.32 120.35,291.95 120.79,291.59 121.24,291.23 121.69,290.88 122.13,290.52 122.58,290.17 123.02,289.83 123.47,289.49 123.92,289.15 124.36,288.81 124.81,288.48 125.25,288.14 125.70,287.82 126.15,287.49 126.59,287.17 127.04,286.85 127.48,286.53 127.93,286.22 128.38,285.91 128.82,285.60 129.27,285.29 129.71,284.99 130.16,284.69 130.61,284.39 131.05,284.09 131.50,283.80 131.94,283.50 132.39,283.22 132.83,282.93 133.28,282.64 133.73,282.36 134.17,282.08 134.62,281.81 135.06,281.53 135.51,281.26 135.96,280.99 136.40,280.72 136.85,280.45 137.29,280.19 137.74,279.93 138.19,279.67 138.63,279.41 139.08,279.16 139.52,278.91 139.97,278.66 140.42,278.41 140.86,278.16 141.31,277.92 141.75,277.68 142.20,277.44 142.65,277.20 143.09,276.97 143.54,276.74 143.98,276.51 144.43,276.28 144.87,276.05 145.32,275.83 145.77,275.60 146.21,275.38 146.66,275.17 147.10,274.95 147.55,274.73 148.00,274.52 148.44,274.31 148.89,274.10 149.33,273.89 149.78,273.69 150.23,273.48 150.67,273.28 151.12,273.08 151.56,272.88 152.01,272.68 152.46,272.48 152.90,272.28 153.35,272.09 153.79,271.90 154.24,271.71 154.69,271.52 155.13,271.33 155.58,271.14 156.02,270.95 156.47,270.77 156.91,270.58 157.36,270.40 157.81,270.22 158.25,270.04 158.70,269.86 159.14,269.68 159.59,269.51 160.04,269.33 160.48,269.16 160.93,268.99 161.37,268.82 161.82,268.65 162.27,268.48 162.71,268.31 163.16,268.15 163.60,267.99 164.05,267.82 164.50,267.66 164.94,267.50 165.39,267.34 165.83,267.19 166.28,267.03 166.73,266.87 167.17,266.72 167.62,266.57 168.06,266.41 168.51,266.26 168.95,266.11 169.40,265.96 169.85,265.81 170.29,265.67 170.74,265.52 171.18,265.37 171.63,265.23 172.08,265.08 172.52,264.94 172.97,264.80 173.41,264.66 173.86,264.52 174.31,264.38 174.75,264.24 175.20,264.10 175.64,263.96 176.09,263.82 176.54,263.69 176.98,263.55 177.43,263.42 177.87,263.28 178.32,263.15 178.77,263.02 179.21,262.88 179.66,262.75 180.10,262.62 180.55,262.49 181.00,262.36 181.44,262.23 181.89,262.11 182.33,261.98 182.78,261.85 183.22,261.73 183.67,261.60 184.12,261.47 184.56,261.35 185.01,261.23 185.45,261.10 185.90,260.98 186.35,260.86 186.79,260.74 187.24,260.61 187.68,260.49 188.13,260.37 188.58,260.25 189.02,260.13 189.47,260.02 189.91,259.90 190.36,259.78 190.81,259.66 191.25,259.55 191.70,259.43 192.14,259.31 192.59,259.20 193.04,259.08 193.48,258.97 193.93,258.85 194.37,258.74 194.82,258.62 195.26,258.51 195.71,258.40 196.16,258.29 196.60,258.17 197.05,258.06 197.49,257.95 197.94,257.84 198.39,257.73 198.83,257.62 199.28,257.51 199.72,257.40 200.17,257.29 200.62,257.18 201.06,257.07 201.51,256.96 201.95,256.85 202.40,256.74 202.85,256.63 203.29,256.52 203.74,256.42 204.18,256.31 204.63,256.20 205.08,256.10 205.52,255.99 205.97,255.88 206.41,255.78 206.86,255.67 207.30,255.57 207.75,255.46 208.20,255.36 208.64,255.25 209.09,255.15 209.53,255.04 209.98,254.94 210.43,254.84 210.87,254.73 211.32,254.63 211.76,254.53 212.21,254.42 212.66,254.32 213.10,254.22 213.55,254.12 213.99,254.01 214.44,253.91 214.89,253.81 215.33,253.71 215.78,253.61 216.22,253.51 216.67,253.41 217.12,253.31 217.56,253.21 218.01,253.11 218.45,253.01 218.90,252.91 219.34,252.81 219.79,252.71 220.24,252.61 220.68,252.51 221.13,252.41 221.57,252.31 222.02,252.21 222.47,252.12 222.91,252.02 223.36,251.92 223.80,251.82 224.25,251.73 224.70,251.63 225.14,251.53 225.59,251.44 226.03,251.34 226.48,251.24 226.93,251.15 227.37,251.05 227.82,250.96 228.26,250.86 228.71,250.77 229.16,250.67 229.60,250.58 230.05,250.48 230.49,250.39 230.94,250.29 231.38,250.20 231.83,250.11 232.28,250.01 232.72,249.92 233.17,249.83 233.61,249.73 234.06,249.64 234.51,249.55 234.95,249.46 235.40,249.36 235.84,249.27 236.29,249.18 236.74,249.09 237.18,249.00 237.63,248.91 238.07,248.82 238.52,248.73 238.97,248.64 239.41,248.55 239.86,248.46 240.30,248.37 240.75,248.28 241.20,248.19 241.64,248.10 242.09,248.01 242.53,247.92 242.98,247.83 243.43,247.75 243.87,247.66 244.32,247.57 244.76,247.48 245.21,247.40 245.65,247.31 246.10,247.22 246.55,247.14 246.99,247.05 247.44,246.96 247.88,246.88 248.33,246.79 248.78,246.71 249.22,246.62 249.67,246.54 250.11,246.45 250.56,246.37 251.01,246.28 251.45,246.20 251.90,246.12 252.34,246.03 252.79,245.95 253.24,245.87 253.68,245.78 254.13,245.70 254.57,245.62 255.02,245.54 255.47,245.45 255.91,245.37 256.36,245.29 256.80,245.21 257.25,245.13 257.69,245.05 258.14,244.97 258.59,244.89 259.03,244.81 259.48,244.73 259.92,244.65 260.37,244.57 260.82,244.49 261.26,244.41 261.71,244.33 262.15,244.23 262.60,244.17 262.60,244.17 262.60,244.17" fill="none" stroke="#c5545c" stroke-width="1.35" stroke-linejoin="round"/>
</g>
<text transform="translate(57.7,227.9) scale(0.9,1.08)" x="0" y="0" style="font-family:'Liberation Sans',sans-serif;fill:#000;stroke:#000;stroke-width:0.35px" font-size="15.5" font-weight="bold">C</text>
<line x1="190.40" y1="315.60" x2="213.00" y2="315.60" stroke="#333333" stroke-width="2" stroke-dasharray="3.5,1.1"/>
<text x="215.50" y="319.80" font-size="12">REF</text>
<line x1="190.40" y1="329.80" x2="213.00" y2="329.80" stroke="#d6b458" stroke-width="1.6"/>
<text x="215.50" y="334.00" font-size="12">BA20</text>
<line x1="190.40" y1="344.60" x2="213.00" y2="344.60" stroke="#d99b74" stroke-width="1.6"/>
<text x="215.50" y="348.80" font-size="12">MBA20</text>
<line x1="190.40" y1="359.00" x2="213.00" y2="359.00" stroke="#c5545c" stroke-width="1.6"/>
<text x="215.50" y="363.20" font-size="12">cMBA20</text>
<line x1="326.20" y1="368.00" x2="326.20" y2="364.50" stroke="#6b6b6b" stroke-width="1.3"/>
<line x1="356.23" y1="368.00" x2="356.23" y2="364.50" stroke="#6b6b6b" stroke-width="1.3"/>
<line x1="386.26" y1="368.00" x2="386.26" y2="364.50" stroke="#6b6b6b" stroke-width="1.3"/>
<line x1="416.29" y1="368.00" x2="416.29" y2="364.50" stroke="#6b6b6b" stroke-width="1.3"/>
<line x1="446.31" y1="368.00" x2="446.31" y2="364.50" stroke="#6b6b6b" stroke-width="1.3"/>
<line x1="476.34" y1="368.00" x2="476.34" y2="364.50" stroke="#6b6b6b" stroke-width="1.3"/>
<line x1="506.37" y1="368.00" x2="506.37" y2="364.50" stroke="#6b6b6b" stroke-width="1.3"/>
<line x1="536.40" y1="368.00" x2="536.40" y2="364.50" stroke="#6b6b6b" stroke-width="1.3"/>
<line x1="326.20" y1="368.00" x2="329.70" y2="368.00" stroke="#6b6b6b" stroke-width="1.3"/>
<text x="315.20" y="372.00" font-size="12" text-anchor="end">0</text>
<line x1="326.20" y1="348.55" x2="329.70" y2="348.55" stroke="#6b6b6b" stroke-width="1.3"/>
<text x="315.20" y="352.55" font-size="12" text-anchor="end">50</text>
<line x1="326.20" y1="329.10" x2="329.70" y2="329.10" stroke="#6b6b6b" stroke-width="1.3"/>
<text x="315.20" y="333.10" font-size="12" text-anchor="end">100</text>
<line x1="326.20" y1="309.65" x2="329.70" y2="309.65" stroke="#6b6b6b" stroke-width="1.3"/>
<text x="315.20" y="313.65" font-size="12" text-anchor="end">150</text>
<line x1="326.20" y1="290.20" x2="329.70" y2="290.20" stroke="#6b6b6b" stroke-width="1.3"/>
<text x="315.20" y="294.20" font-size="12" text-anchor="end">200</text>
<line x1="326.20" y1="270.75" x2="329.70" y2="270.75" stroke="#6b6b6b" stroke-width="1.3"/>
<text x="315.20" y="274.75" font-size="12" text-anchor="end">250</text>
<line x1="326.20" y1="251.30" x2="329.70" y2="251.30" stroke="#6b6b6b" stroke-width="1.3"/>
<text x="315.20" y="255.30" font-size="12" text-anchor="end">300</text>
<line x1="326.20" y1="231.85" x2="329.70" y2="231.85" stroke="#6b6b6b" stroke-width="1.3"/>
<text x="315.20" y="235.85" font-size="12" text-anchor="end">350</text>
<line x1="326.20" y1="212.40" x2="329.70" y2="212.40" stroke="#6b6b6b" stroke-width="1.3"/>
<text x="315.20" y="216.40" font-size="12" text-anchor="end">400</text>
<text x="326.20" y="386.20" font-size="12" text-anchor="middle">0</text>
<text x="356.23" y="386.20" font-size="12" text-anchor="middle">10</text>
<text x="386.26" y="386.20" font-size="12" text-anchor="middle">20</text>
<text x="416.29" y="386.20" font-size="12" text-anchor="middle">30</text>
<text x="446.31" y="386.20" font-size="12" text-anchor="middle">40</text>
<text x="476.34" y="386.20" font-size="12" text-anchor="middle">50</text>
<text x="506.37" y="386.20" font-size="12" text-anchor="middle">60</text>
<text x="536.40" y="386.20" font-size="12" text-anchor="middle">70</text>
<text x="431.30" y="398.00" font-size="12" text-anchor="middle">Time (h)</text>
<text transform="translate(292.40,290.30) rotate(-90)" font-size="12" text-anchor="middle">Cumulative heat release (J/g)</text>
<rect x="326.20" y="212.40" width="210.20" height="155.60" fill="none" stroke="#6b6b6b" stroke-width="1.6"/>
<g clip-path="url(#clD)">
<path d="M326.56,368.00 326.61,365.96 326.65,364.11 326.73,361.53 326.80,359.83 326.95,358.52 327.10,357.89 327.55,357.13 328.00,356.72 328.60,356.27 329.20,355.92 329.80,355.62 330.40,355.32 331.06,354.98 331.73,354.65 332.39,354.34 333.05,354.05 333.71,353.78 334.16,353.61 334.61,353.45 335.06,353.29 335.51,353.12 335.96,352.94 336.41,352.76 336.86,352.58 337.31,352.39 337.76,352.19 338.21,351.99 338.66,351.78 339.11,351.56 339.56,351.33 340.01,351.10 340.46,350.86 340.91,350.60 341.36,350.34 341.81,350.06 342.27,349.77 342.72,349.46 343.17,349.15 343.62,348.82 344.07,348.48 344.52,348.13 344.97,347.77 345.42,347.39 345.87,346.99 346.32,346.59 346.77,346.16 347.22,345.73 347.67,345.28 348.12,344.81 348.57,344.33 349.02,343.84 349.47,343.33 349.92,342.82 350.37,342.28 350.82,341.73 351.27,341.17 351.72,340.60 352.17,340.01 352.63,339.41 353.08,338.80 353.53,338.19 353.98,337.57 354.43,336.94 354.88,336.30 355.33,335.66 355.78,335.01 356.23,334.36 356.68,333.71 357.13,333.05 357.58,332.39 358.03,331.73 358.48,331.08 358.93,330.42 359.38,329.77 359.83,329.12 360.28,328.47 360.73,327.83 361.18,327.19 361.63,326.55 362.08,325.92 362.53,325.29 362.98,324.66 363.44,324.04 363.89,323.42 364.34,322.80 364.79,322.19 365.24,321.58 365.69,320.98 366.14,320.38 366.59,319.78 367.04,319.19 367.49,318.60 367.94,318.02 368.39,317.44 368.84,316.87 369.29,316.30 369.74,315.74 370.19,315.18 370.64,314.63 371.09,314.08 371.54,313.53 371.99,313.00 372.44,312.46 372.89,311.93 373.34,311.41 373.80,310.89 374.25,310.37 374.70,309.86 375.15,309.35 375.60,308.85 376.05,308.35 376.50,307.86 376.95,307.37 377.40,306.88 377.85,306.40 378.30,305.93 378.75,305.45 379.20,304.98 379.65,304.52 380.10,304.06 380.55,303.60 381.00,303.15 381.45,302.71 381.90,302.27 382.35,301.83 382.80,301.40 383.25,300.97 383.70,300.55 384.16,300.13 384.61,299.72 385.06,299.31 385.51,298.90 385.96,298.50 386.41,298.11 386.86,297.71 387.31,297.33 387.76,296.94 388.21,296.56 388.66,296.18 389.11,295.81 389.56,295.44 390.01,295.08 390.46,294.72 390.91,294.36 391.36,294.01 391.81,293.66 392.26,293.31 392.71,292.97 393.16,292.63 393.61,292.30 394.06,291.97 394.51,291.64 394.97,291.31 395.42,290.99 395.87,290.67 396.32,290.35 396.77,290.04 397.22,289.73 397.67,289.42 398.12,289.12 398.57,288.82 399.02,288.52 399.47,288.22 399.92,287.93 400.37,287.64 400.82,287.35 401.27,287.06 401.72,286.78 402.17,286.50 402.62,286.22 403.07,285.95 403.52,285.67 403.97,285.40 404.42,285.13 404.87,284.87 405.33,284.61 405.78,284.34 406.23,284.09 406.68,283.83 407.13,283.58 407.58,283.32 408.03,283.07 408.48,282.83 408.93,282.58 409.38,282.34 409.83,282.10 410.28,281.86 410.73,281.62 411.18,281.39 411.63,281.16 412.08,280.93 412.53,280.70 412.98,280.48 413.43,280.25 413.88,280.03 414.33,279.81 414.78,279.60 415.23,279.38 415.69,279.17 416.14,278.96 416.59,278.75 417.04,278.54 417.49,278.34 417.94,278.13 418.39,277.93 418.84,277.73 419.29,277.54 419.74,277.34 420.19,277.15 420.64,276.95 421.09,276.76 421.54,276.57 421.99,276.39 422.44,276.20 422.89,276.02 423.34,275.83 423.79,275.65 424.24,275.47 424.69,275.29 425.14,275.12 425.59,274.94 426.04,274.77 426.50,274.59 426.95,274.42 427.40,274.25 427.85,274.08 428.30,273.92 428.75,273.75 429.20,273.58 429.65,273.42 430.10,273.25 430.55,273.09 431.00,272.93 431.45,272.77 431.90,272.61 432.35,272.45 432.80,272.29 433.25,272.13 433.70,271.97 434.15,271.82 434.60,271.66 435.05,271.51 435.50,271.35 435.95,271.20 436.40,271.05 436.86,270.90 437.31,270.75 437.76,270.60 438.21,270.45 438.66,270.30 439.11,270.15 439.56,270.01 440.01,269.86 440.46,269.71 440.91,269.57 441.36,269.43 441.81,269.28 442.26,269.14 442.71,269.00 443.16,268.86 443.61,268.72 444.06,268.58 444.51,268.44 444.96,268.30 445.41,268.16 445.86,268.03 446.31,267.89 446.76,267.75 447.22,267.62 447.67,267.48 448.12,267.35 448.57,267.22 449.02,267.08 449.47,266.95 449.92,266.82 450.37,266.69 450.82,266.56 451.27,266.43 451.72,266.30 452.17,266.17 452.62,266.04 453.07,265.92 453.52,265.79 453.97,265.66 454.42,265.54 454.87,265.41 455.32,265.29 455.77,265.16 456.22,265.04 456.67,264.91 457.12,264.79 457.57,264.67 458.03,264.55 458.48,264.42 458.93,264.30 459.38,264.18 459.83,264.06 460.28,263.94 460.73,263.82 461.18,263.70 461.63,263.59 462.08,263.47 462.53,263.35 462.98,263.23 463.43,263.12 463.88,263.00 464.33,262.89 464.78,262.77 465.23,262.66 465.68,262.54 466.13,262.43 466.58,262.31 467.03,262.20 467.48,262.09 467.93,261.97 468.39,261.86 468.84,261.75 469.29,261.64 469.74,261.53 470.19,261.42 470.64,261.31 471.09,261.20 471.54,261.09 471.99,260.98 472.44,260.87 472.89,260.76 473.34,260.65 473.79,260.54 474.24,260.43 474.69,260.33 475.14,260.22 475.59,260.11 476.04,260.01 476.49,259.90 476.94,259.79 477.39,259.69 477.84,259.58 478.29,259.48 478.75,259.37 479.20,259.27 479.65,259.16 480.10,259.06 480.55,258.96 481.00,258.85 481.45,258.75 481.90,258.65 482.35,258.54 482.80,258.44 483.25,258.34 483.70,258.24 484.15,258.14 484.60,258.04 485.05,257.94 485.50,257.84 485.95,257.73 486.40,257.64 486.85,257.54 487.30,257.44 487.75,257.34 488.20,257.24 488.65,257.14 489.10,257.04 489.56,256.94 490.01,256.85 490.46,256.75 490.91,256.65 491.36,256.56 491.81,256.46 492.26,256.36 492.71,256.27 493.16,256.17 493.61,256.08 494.06,255.98 494.51,255.89 494.96,255.79 495.41,255.70 495.86,255.61 496.31,255.51 496.76,255.42 497.21,255.33 497.66,255.23 498.11,255.14 498.56,255.05 499.01,254.96 499.46,254.86 499.92,254.77 500.37,254.68 500.82,254.59 501.27,254.50 501.72,254.41 502.17,254.32 502.62,254.23 503.07,254.14 503.52,254.05 503.97,253.96 504.42,253.87 504.87,253.78 505.32,253.70 505.77,253.61 506.22,253.52 506.67,253.43 507.12,253.34 507.57,253.26 508.02,253.17 508.47,253.08 508.92,253.00 509.37,252.91 509.82,252.82 510.28,252.74 510.73,252.65 511.18,252.57 511.63,252.48 512.08,252.39 512.53,252.31 512.98,252.22 513.43,252.14 513.88,252.05 514.33,251.97 514.78,251.89 515.23,251.80 515.68,251.72 516.13,251.63 516.58,251.55 517.03,251.47 517.48,251.38 517.93,251.30 518.38,251.22 518.83,251.13 519.28,251.05 519.73,250.97 520.18,250.89 520.63,250.80 521.09,250.72 521.54,250.64 521.99,250.56 522.44,250.48 522.89,250.40 523.34,250.31 523.79,250.23 524.24,250.15 524.69,250.07 525.14,249.99 525.59,249.91 526.04,249.83 526.49,249.75 526.94,249.67 527.39,249.59 527.84,249.51 528.29,249.43 528.74,249.35 529.19,249.27 529.64,249.19 530.09,249.11 530.54,249.04 530.99,248.96 531.45,248.88 531.90,248.80 532.35,248.72 532.80,248.64 533.25,248.57 533.70,248.49 534.15,248.41 534.60,248.33 535.05,248.26 535.50,248.18 535.95,248.08 536.40,248.03 536.40,248.03 536.40,248.03" fill="none" stroke="#333333" stroke-width="1.45" stroke-dasharray="3.4,1.2" stroke-linejoin="round"/>
<path d="M326.56,368.00 326.61,365.61 326.65,363.33 326.73,359.61 326.80,357.11 326.95,355.52 327.10,354.77 327.55,353.87 328.00,353.41 328.60,352.96 329.20,352.61 329.80,352.33 330.40,352.05 331.06,351.75 331.73,351.47 332.39,351.21 333.05,350.94 333.71,350.66 334.16,350.46 334.61,350.25 335.06,350.04 335.51,349.83 335.96,349.62 336.41,349.40 336.86,349.19 337.31,348.96 337.76,348.73 338.21,348.50 338.66,348.25 339.11,348.00 339.56,347.74 340.01,347.47 340.46,347.20 340.91,346.92 341.36,346.63 341.81,346.33 342.27,346.02 342.72,345.71 343.17,345.38 343.62,345.05 344.07,344.71 344.52,344.37 344.97,344.01 345.42,343.65 345.87,343.27 346.32,342.89 346.77,342.50 347.22,342.10 347.67,341.70 348.12,341.28 348.57,340.86 349.02,340.42 349.47,339.98 349.92,339.53 350.37,339.08 350.82,338.61 351.27,338.14 351.72,337.66 352.17,337.17 352.63,336.68 353.08,336.18 353.53,335.67 353.98,335.16 354.43,334.64 354.88,334.12 355.33,333.59 355.78,333.06 356.23,332.52 356.68,331.98 357.13,331.43 357.58,330.88 358.03,330.33 358.48,329.77 358.93,329.21 359.38,328.65 359.83,328.08 360.28,327.51 360.73,326.95 361.18,326.38 361.63,325.80 362.08,325.23 362.53,324.66 362.98,324.09 363.44,323.52 363.89,322.95 364.34,322.37 364.79,321.80 365.24,321.23 365.69,320.66 366.14,320.09 366.59,319.53 367.04,318.96 367.49,318.40 367.94,317.83 368.39,317.27 368.84,316.72 369.29,316.16 369.74,315.60 370.19,315.05 370.64,314.50 371.09,313.96 371.54,313.41 371.99,312.87 372.44,312.34 372.89,311.80 373.34,311.27 373.80,310.74 374.25,310.21 374.70,309.69 375.15,309.17 375.60,308.65 376.05,308.13 376.50,307.62 376.95,307.11 377.40,306.60 377.85,306.09 378.30,305.59 378.75,305.09 379.20,304.59 379.65,304.10 380.10,303.60 380.55,303.11 381.00,302.63 381.45,302.14 381.90,301.66 382.35,301.18 382.80,300.70 383.25,300.23 383.70,299.76 384.16,299.29 384.61,298.83 385.06,298.36 385.51,297.90 385.96,297.45 386.41,296.99 386.86,296.54 387.31,296.09 387.76,295.65 388.21,295.21 388.66,294.77 389.11,294.33 389.56,293.90 390.01,293.47 390.46,293.04 390.91,292.62 391.36,292.20 391.81,291.78 392.26,291.36 392.71,290.95 393.16,290.54 393.61,290.14 394.06,289.73 394.51,289.33 394.97,288.94 395.42,288.54 395.87,288.15 396.32,287.76 396.77,287.38 397.22,287.00 397.67,286.62 398.12,286.24 398.57,285.87 399.02,285.50 399.47,285.13 399.92,284.77 400.37,284.41 400.82,284.05 401.27,283.70 401.72,283.34 402.17,283.00 402.62,282.65 403.07,282.31 403.52,281.97 403.97,281.63 404.42,281.30 404.87,280.97 405.33,280.64 405.78,280.31 406.23,279.99 406.68,279.67 407.13,279.35 407.58,279.04 408.03,278.72 408.48,278.41 408.93,278.11 409.38,277.80 409.83,277.50 410.28,277.19 410.73,276.90 411.18,276.60 411.63,276.30 412.08,276.01 412.53,275.72 412.98,275.43 413.43,275.14 413.88,274.86 414.33,274.58 414.78,274.30 415.23,274.02 415.69,273.75 416.14,273.48 416.59,273.21 417.04,272.94 417.49,272.67 417.94,272.41 418.39,272.15 418.84,271.89 419.29,271.64 419.74,271.38 420.19,271.13 420.64,270.89 421.09,270.64 421.54,270.40 421.99,270.16 422.44,269.92 422.89,269.69 423.34,269.45 423.79,269.23 424.24,269.00 424.69,268.78 425.14,268.55 425.59,268.34 426.04,268.12 426.50,267.91 426.95,267.69 427.40,267.49 427.85,267.28 428.30,267.07 428.75,266.87 429.20,266.67 429.65,266.47 430.10,266.27 430.55,266.08 431.00,265.88 431.45,265.69 431.90,265.50 432.35,265.31 432.80,265.12 433.25,264.94 433.70,264.75 434.15,264.57 434.60,264.39 435.05,264.21 435.50,264.03 435.95,263.85 436.40,263.68 436.86,263.50 437.31,263.33 437.76,263.16 438.21,262.98 438.66,262.81 439.11,262.64 439.56,262.48 440.01,262.31 440.46,262.14 440.91,261.98 441.36,261.81 441.81,261.65 442.26,261.49 442.71,261.32 443.16,261.16 443.61,261.00 444.06,260.84 444.51,260.68 444.96,260.52 445.41,260.37 445.86,260.21 446.31,260.05 446.76,259.90 447.22,259.74 447.67,259.59 448.12,259.44 448.57,259.29 449.02,259.13 449.47,258.98 449.92,258.83 450.37,258.68 450.82,258.53 451.27,258.39 451.72,258.24 452.17,258.09 452.62,257.94 453.07,257.80 453.52,257.65 453.97,257.51 454.42,257.37 454.87,257.22 455.32,257.08 455.77,256.94 456.22,256.80 456.67,256.66 457.12,256.52 457.57,256.38 458.03,256.24 458.48,256.10 458.93,255.96 459.38,255.83 459.83,255.69 460.28,255.56 460.73,255.42 461.18,255.29 461.63,255.15 462.08,255.02 462.53,254.89 462.98,254.75 463.43,254.62 463.88,254.49 464.33,254.36 464.78,254.23 465.23,254.10 465.68,253.97 466.13,253.84 466.58,253.71 467.03,253.58 467.48,253.46 467.93,253.33 468.39,253.20 468.84,253.08 469.29,252.95 469.74,252.83 470.19,252.70 470.64,252.58 471.09,252.45 471.54,252.33 471.99,252.20 472.44,252.08 472.89,251.96 473.34,251.84 473.79,251.71 474.24,251.59 474.69,251.47 475.14,251.35 475.59,251.23 476.04,251.11 476.49,250.99 476.94,250.87 477.39,250.75 477.84,250.63 478.29,250.51 478.75,250.39 479.20,250.27 479.65,250.16 480.10,250.04 480.55,249.92 481.00,249.80 481.45,249.69 481.90,249.57 482.35,249.46 482.80,249.34 483.25,249.22 483.70,249.11 484.15,248.99 484.60,248.88 485.05,248.76 485.50,248.65 485.95,248.54 486.40,248.42 486.85,248.31 487.30,248.20 487.75,248.08 488.20,247.97 488.65,247.86 489.10,247.75 489.56,247.64 490.01,247.53 490.46,247.41 490.91,247.30 491.36,247.19 491.81,247.08 492.26,246.97 492.71,246.86 493.16,246.75 493.61,246.64 494.06,246.53 494.51,246.43 494.96,246.32 495.41,246.21 495.86,246.10 496.31,245.99 496.76,245.89 497.21,245.78 497.66,245.67 498.11,245.56 498.56,245.46 499.01,245.35 499.46,245.25 499.92,245.14 500.37,245.03 500.82,244.93 501.27,244.82 501.72,244.72 502.17,244.61 502.62,244.51 503.07,244.40 503.52,244.30 503.97,244.20 504.42,244.09 504.87,243.99 505.32,243.89 505.77,243.78 506.22,243.68 506.67,243.58 507.12,243.48 507.57,243.37 508.02,243.27 508.47,243.17 508.92,243.07 509.37,242.97 509.82,242.87 510.28,242.77 510.73,242.67 511.18,242.57 511.63,242.47 512.08,242.37 512.53,242.27 512.98,242.17 513.43,242.07 513.88,241.97 514.33,241.87 514.78,241.78 515.23,241.68 515.68,241.58 516.13,241.48 516.58,241.38 517.03,241.29 517.48,241.19 517.93,241.09 518.38,241.00 518.83,240.90 519.28,240.81 519.73,240.71 520.18,240.62 520.63,240.52 521.09,240.42 521.54,240.33 521.99,240.24 522.44,240.14 522.89,240.05 523.34,239.95 523.79,239.86 524.24,239.77 524.69,239.67 525.14,239.58 525.59,239.49 526.04,239.40 526.49,239.30 526.94,239.21 527.39,239.12 527.84,239.03 528.29,238.94 528.74,238.85 529.19,238.76 529.64,238.66 530.09,238.57 530.54,238.48 530.99,238.39 531.45,238.30 531.90,238.22 532.35,238.13 532.80,238.04 533.25,237.95 533.70,237.86 534.15,237.77 534.60,237.68 535.05,237.60 535.50,237.51 535.95,237.40 536.40,237.33 536.40,237.33 536.40,237.33" fill="none" stroke="#4cadcb" stroke-width="1.35" stroke-linejoin="round"/>
<path d="M326.56,368.00 326.61,365.62 326.65,363.33 326.73,359.43 326.80,356.72 326.95,354.87 327.10,354.00 327.55,352.95 328.00,352.44 328.60,351.97 329.20,351.62 329.80,351.34 330.40,351.08 331.06,350.81 331.73,350.57 332.39,350.35 333.05,350.12 333.71,349.85 334.16,349.63 334.61,349.40 335.06,349.17 335.51,348.94 335.96,348.71 336.41,348.47 336.86,348.23 337.31,347.98 337.76,347.72 338.21,347.45 338.66,347.18 339.11,346.89 339.56,346.60 340.01,346.30 340.46,345.98 340.91,345.66 341.36,345.33 341.81,344.98 342.27,344.63 342.72,344.26 343.17,343.88 343.62,343.49 344.07,343.08 344.52,342.66 344.97,342.23 345.42,341.78 345.87,341.32 346.32,340.85 346.77,340.36 347.22,339.87 347.67,339.36 348.12,338.85 348.57,338.32 349.02,337.78 349.47,337.24 349.92,336.68 350.37,336.11 350.82,335.54 351.27,334.96 351.72,334.37 352.17,333.77 352.63,333.17 353.08,332.56 353.53,331.95 353.98,331.33 354.43,330.71 354.88,330.09 355.33,329.46 355.78,328.84 356.23,328.21 356.68,327.58 357.13,326.95 357.58,326.31 358.03,325.68 358.48,325.05 358.93,324.42 359.38,323.78 359.83,323.15 360.28,322.52 360.73,321.89 361.18,321.26 361.63,320.63 362.08,320.01 362.53,319.38 362.98,318.76 363.44,318.13 363.89,317.51 364.34,316.88 364.79,316.26 365.24,315.64 365.69,315.02 366.14,314.41 366.59,313.79 367.04,313.18 367.49,312.56 367.94,311.95 368.39,311.34 368.84,310.73 369.29,310.13 369.74,309.53 370.19,308.93 370.64,308.33 371.09,307.74 371.54,307.15 371.99,306.57 372.44,305.99 372.89,305.42 373.34,304.84 373.80,304.28 374.25,303.72 374.70,303.16 375.15,302.61 375.60,302.06 376.05,301.51 376.50,300.97 376.95,300.43 377.40,299.89 377.85,299.36 378.30,298.83 378.75,298.31 379.20,297.78 379.65,297.26 380.10,296.75 380.55,296.24 381.00,295.73 381.45,295.22 381.90,294.72 382.35,294.23 382.80,293.73 383.25,293.25 383.70,292.77 384.16,292.29 384.61,291.82 385.06,291.35 385.51,290.89 385.96,290.43 386.41,289.98 386.86,289.53 387.31,289.08 387.76,288.64 388.21,288.21 388.66,287.78 389.11,287.35 389.56,286.93 390.01,286.51 390.46,286.10 390.91,285.69 391.36,285.28 391.81,284.88 392.26,284.49 392.71,284.10 393.16,283.71 393.61,283.33 394.06,282.95 394.51,282.58 394.97,282.21 395.42,281.85 395.87,281.49 396.32,281.14 396.77,280.79 397.22,280.44 397.67,280.10 398.12,279.76 398.57,279.43 399.02,279.10 399.47,278.77 399.92,278.45 400.37,278.13 400.82,277.81 401.27,277.50 401.72,277.19 402.17,276.88 402.62,276.58 403.07,276.28 403.52,275.98 403.97,275.69 404.42,275.40 404.87,275.11 405.33,274.82 405.78,274.54 406.23,274.26 406.68,273.98 407.13,273.71 407.58,273.43 408.03,273.16 408.48,272.89 408.93,272.63 409.38,272.36 409.83,272.10 410.28,271.84 410.73,271.58 411.18,271.33 411.63,271.08 412.08,270.82 412.53,270.57 412.98,270.33 413.43,270.08 413.88,269.84 414.33,269.59 414.78,269.35 415.23,269.11 415.69,268.88 416.14,268.64 416.59,268.41 417.04,268.17 417.49,267.94 417.94,267.71 418.39,267.48 418.84,267.26 419.29,267.03 419.74,266.81 420.19,266.58 420.64,266.36 421.09,266.14 421.54,265.92 421.99,265.71 422.44,265.49 422.89,265.27 423.34,265.06 423.79,264.85 424.24,264.64 424.69,264.42 425.14,264.22 425.59,264.01 426.04,263.80 426.50,263.60 426.95,263.39 427.40,263.19 427.85,262.98 428.30,262.78 428.75,262.58 429.20,262.38 429.65,262.19 430.10,261.99 430.55,261.79 431.00,261.60 431.45,261.40 431.90,261.21 432.35,261.01 432.80,260.82 433.25,260.63 433.70,260.44 434.15,260.25 434.60,260.06 435.05,259.87 435.50,259.69 435.95,259.50 436.40,259.32 436.86,259.13 437.31,258.95 437.76,258.76 438.21,258.58 438.66,258.40 439.11,258.22 439.56,258.04 440.01,257.86 440.46,257.68 440.91,257.50 441.36,257.33 441.81,257.15 442.26,256.98 442.71,256.80 443.16,256.63 443.61,256.45 444.06,256.28 444.51,256.11 444.96,255.93 445.41,255.76 445.86,255.59 446.31,255.42 446.76,255.25 447.22,255.09 447.67,254.92 448.12,254.75 448.57,254.58 449.02,254.42 449.47,254.25 449.92,254.09 450.37,253.92 450.82,253.76 451.27,253.60 451.72,253.43 452.17,253.27 452.62,253.11 453.07,252.95 453.52,252.79 453.97,252.63 454.42,252.47 454.87,252.32 455.32,252.16 455.77,252.00 456.22,251.85 456.67,251.69 457.12,251.54 457.57,251.38 458.03,251.23 458.48,251.07 458.93,250.92 459.38,250.77 459.83,250.62 460.28,250.47 460.73,250.32 461.18,250.17 461.63,250.02 462.08,249.87 462.53,249.72 462.98,249.58 463.43,249.43 463.88,249.28 464.33,249.14 464.78,248.99 465.23,248.85 465.68,248.71 466.13,248.56 466.58,248.42 467.03,248.28 467.48,248.13 467.93,247.99 468.39,247.85 468.84,247.71 469.29,247.57 469.74,247.43 470.19,247.29 470.64,247.15 471.09,247.01 471.54,246.88 471.99,246.74 472.44,246.60 472.89,246.46 473.34,246.33 473.79,246.19 474.24,246.06 474.69,245.92 475.14,245.78 475.59,245.65 476.04,245.52 476.49,245.38 476.94,245.25 477.39,245.12 477.84,244.98 478.29,244.85 478.75,244.72 479.20,244.59 479.65,244.45 480.10,244.32 480.55,244.19 481.00,244.06 481.45,243.93 481.90,243.80 482.35,243.67 482.80,243.54 483.25,243.42 483.70,243.29 484.15,243.16 484.60,243.03 485.05,242.90 485.50,242.78 485.95,242.65 486.40,242.52 486.85,242.40 487.30,242.27 487.75,242.15 488.20,242.02 488.65,241.90 489.10,241.77 489.56,241.65 490.01,241.53 490.46,241.40 490.91,241.28 491.36,241.16 491.81,241.04 492.26,240.92 492.71,240.79 493.16,240.67 493.61,240.55 494.06,240.43 494.51,240.31 494.96,240.19 495.41,240.07 495.86,239.95 496.31,239.84 496.76,239.72 497.21,239.60 497.66,239.48 498.11,239.37 498.56,239.25 499.01,239.13 499.46,239.02 499.92,238.90 500.37,238.79 500.82,238.67 501.27,238.56 501.72,238.44 502.17,238.33 502.62,238.21 503.07,238.10 503.52,237.99 503.97,237.87 504.42,237.76 504.87,237.65 505.32,237.54 505.77,237.43 506.22,237.32 506.67,237.20 507.12,237.09 507.57,236.98 508.02,236.87 508.47,236.76 508.92,236.65 509.37,236.55 509.82,236.44 510.28,236.33 510.73,236.22 511.18,236.11 511.63,236.00 512.08,235.90 512.53,235.79 512.98,235.68 513.43,235.58 513.88,235.47 514.33,235.37 514.78,235.26 515.23,235.15 515.68,235.05 516.13,234.94 516.58,234.84 517.03,234.74 517.48,234.63 517.93,234.53 518.38,234.42 518.83,234.32 519.28,234.22 519.73,234.12 520.18,234.01 520.63,233.91 521.09,233.81 521.54,233.71 521.99,233.61 522.44,233.50 522.89,233.40 523.34,233.30 523.79,233.20 524.24,233.10 524.69,233.00 525.14,232.90 525.59,232.80 526.04,232.70 526.49,232.61 526.94,232.51 527.39,232.41 527.84,232.31 528.29,232.21 528.74,232.12 529.19,232.02 529.64,231.92 530.09,231.82 530.54,231.73 530.99,231.63 531.45,231.54 531.90,231.44 532.35,231.34 532.80,231.25 533.25,231.15 533.70,231.06 534.15,230.96 534.60,230.87 535.05,230.78 535.50,230.68 535.95,230.57 536.40,230.50 536.40,230.50 536.40,230.50" fill="none" stroke="#7f94c9" stroke-width="1.35" stroke-linejoin="round"/>
<path d="M326.56,368.00 326.61,365.64 326.65,363.33 326.73,359.25 326.80,356.33 326.95,354.22 327.10,353.22 327.55,352.18 328.00,351.66 328.60,351.13 329.20,350.73 329.80,350.40 330.40,350.11 331.06,349.81 331.73,349.56 332.39,349.33 333.05,349.10 333.71,348.82 334.16,348.59 334.61,348.34 335.06,348.10 335.51,347.86 335.96,347.61 336.41,347.36 336.86,347.10 337.31,346.84 337.76,346.57 338.21,346.29 338.66,346.00 339.11,345.70 339.56,345.40 340.01,345.08 340.46,344.75 340.91,344.42 341.36,344.07 341.81,343.71 342.27,343.34 342.72,342.95 343.17,342.56 343.62,342.15 344.07,341.72 344.52,341.28 344.97,340.83 345.42,340.37 345.87,339.89 346.32,339.40 346.77,338.91 347.22,338.40 347.67,337.88 348.12,337.35 348.57,336.81 349.02,336.26 349.47,335.70 349.92,335.13 350.37,334.55 350.82,333.96 351.27,333.37 351.72,332.77 352.17,332.17 352.63,331.56 353.08,330.95 353.53,330.33 353.98,329.71 354.43,329.08 354.88,328.46 355.33,327.83 355.78,327.20 356.23,326.57 356.68,325.93 357.13,325.30 357.58,324.66 358.03,324.03 358.48,323.40 358.93,322.76 359.38,322.13 359.83,321.50 360.28,320.87 360.73,320.24 361.18,319.62 361.63,319.00 362.08,318.38 362.53,317.76 362.98,317.14 363.44,316.53 363.89,315.91 364.34,315.30 364.79,314.69 365.24,314.09 365.69,313.48 366.14,312.88 366.59,312.28 367.04,311.68 367.49,311.08 367.94,310.49 368.39,309.90 368.84,309.31 369.29,308.73 369.74,308.15 370.19,307.57 370.64,307.00 371.09,306.43 371.54,305.86 371.99,305.30 372.44,304.74 372.89,304.19 373.34,303.64 373.80,303.09 374.25,302.55 374.70,302.00 375.15,301.47 375.60,300.93 376.05,300.40 376.50,299.87 376.95,299.34 377.40,298.82 377.85,298.30 378.30,297.78 378.75,297.26 379.20,296.75 379.65,296.24 380.10,295.73 380.55,295.22 381.00,294.72 381.45,294.21 381.90,293.71 382.35,293.22 382.80,292.72 383.25,292.23 383.70,291.74 384.16,291.25 384.61,290.77 385.06,290.29 385.51,289.81 385.96,289.34 386.41,288.86 386.86,288.39 387.31,287.93 387.76,287.46 388.21,287.01 388.66,286.55 389.11,286.09 389.56,285.64 390.01,285.20 390.46,284.75 390.91,284.31 391.36,283.88 391.81,283.44 392.26,283.01 392.71,282.59 393.16,282.16 393.61,281.74 394.06,281.33 394.51,280.91 394.97,280.50 395.42,280.09 395.87,279.69 396.32,279.29 396.77,278.89 397.22,278.50 397.67,278.11 398.12,277.72 398.57,277.34 399.02,276.96 399.47,276.58 399.92,276.21 400.37,275.83 400.82,275.47 401.27,275.10 401.72,274.74 402.17,274.38 402.62,274.03 403.07,273.68 403.52,273.33 403.97,272.98 404.42,272.64 404.87,272.30 405.33,271.97 405.78,271.64 406.23,271.31 406.68,270.98 407.13,270.66 407.58,270.34 408.03,270.03 408.48,269.71 408.93,269.40 409.38,269.10 409.83,268.79 410.28,268.49 410.73,268.19 411.18,267.90 411.63,267.61 412.08,267.32 412.53,267.03 412.98,266.75 413.43,266.47 413.88,266.19 414.33,265.92 414.78,265.65 415.23,265.38 415.69,265.11 416.14,264.85 416.59,264.58 417.04,264.32 417.49,264.07 417.94,263.81 418.39,263.56 418.84,263.31 419.29,263.06 419.74,262.81 420.19,262.57 420.64,262.33 421.09,262.09 421.54,261.85 421.99,261.62 422.44,261.38 422.89,261.15 423.34,260.92 423.79,260.70 424.24,260.47 424.69,260.25 425.14,260.03 425.59,259.81 426.04,259.59 426.50,259.38 426.95,259.16 427.40,258.95 427.85,258.74 428.30,258.53 428.75,258.32 429.20,258.11 429.65,257.91 430.10,257.70 430.55,257.50 431.00,257.30 431.45,257.10 431.90,256.90 432.35,256.70 432.80,256.50 433.25,256.31 433.70,256.11 434.15,255.92 434.60,255.72 435.05,255.53 435.50,255.34 435.95,255.15 436.40,254.96 436.86,254.77 437.31,254.58 437.76,254.40 438.21,254.21 438.66,254.03 439.11,253.84 439.56,253.66 440.01,253.47 440.46,253.29 440.91,253.11 441.36,252.93 441.81,252.75 442.26,252.57 442.71,252.39 443.16,252.21 443.61,252.03 444.06,251.86 444.51,251.68 444.96,251.51 445.41,251.33 445.86,251.16 446.31,250.98 446.76,250.81 447.22,250.64 447.67,250.47 448.12,250.29 448.57,250.12 449.02,249.95 449.47,249.78 449.92,249.61 450.37,249.45 450.82,249.28 451.27,249.11 451.72,248.94 452.17,248.78 452.62,248.61 453.07,248.45 453.52,248.28 453.97,248.12 454.42,247.96 454.87,247.80 455.32,247.63 455.77,247.47 456.22,247.31 456.67,247.15 457.12,246.99 457.57,246.83 458.03,246.67 458.48,246.51 458.93,246.36 459.38,246.20 459.83,246.04 460.28,245.89 460.73,245.73 461.18,245.58 461.63,245.42 462.08,245.27 462.53,245.11 462.98,244.96 463.43,244.81 463.88,244.66 464.33,244.50 464.78,244.35 465.23,244.20 465.68,244.05 466.13,243.90 466.58,243.75 467.03,243.60 467.48,243.46 467.93,243.31 468.39,243.16 468.84,243.01 469.29,242.87 469.74,242.72 470.19,242.58 470.64,242.43 471.09,242.29 471.54,242.14 471.99,242.00 472.44,241.86 472.89,241.71 473.34,241.57 473.79,241.43 474.24,241.29 474.69,241.15 475.14,241.01 475.59,240.87 476.04,240.73 476.49,240.59 476.94,240.45 477.39,240.31 477.84,240.17 478.29,240.03 478.75,239.90 479.20,239.76 479.65,239.62 480.10,239.49 480.55,239.35 481.00,239.22 481.45,239.08 481.90,238.95 482.35,238.82 482.80,238.68 483.25,238.55 483.70,238.42 484.15,238.28 484.60,238.15 485.05,238.02 485.50,237.89 485.95,237.76 486.40,237.63 486.85,237.50 487.30,237.37 487.75,237.24 488.20,237.11 488.65,236.98 489.10,236.85 489.56,236.73 490.01,236.60 490.46,236.47 490.91,236.34 491.36,236.22 491.81,236.09 492.26,235.96 492.71,235.84 493.16,235.71 493.61,235.59 494.06,235.46 494.51,235.34 494.96,235.21 495.41,235.09 495.86,234.97 496.31,234.84 496.76,234.72 497.21,234.60 497.66,234.48 498.11,234.35 498.56,234.23 499.01,234.11 499.46,233.99 499.92,233.87 500.37,233.75 500.82,233.63 501.27,233.51 501.72,233.39 502.17,233.27 502.62,233.15 503.07,233.03 503.52,232.91 503.97,232.79 504.42,232.67 504.87,232.55 505.32,232.44 505.77,232.32 506.22,232.20 506.67,232.08 507.12,231.97 507.57,231.85 508.02,231.74 508.47,231.62 508.92,231.50 509.37,231.39 509.82,231.27 510.28,231.16 510.73,231.04 511.18,230.93 511.63,230.82 512.08,230.70 512.53,230.59 512.98,230.48 513.43,230.36 513.88,230.25 514.33,230.14 514.78,230.03 515.23,229.91 515.68,229.80 516.13,229.69 516.58,229.58 517.03,229.47 517.48,229.36 517.93,229.25 518.38,229.14 518.83,229.03 519.28,228.92 519.73,228.81 520.18,228.70 520.63,228.59 521.09,228.49 521.54,228.38 521.99,228.27 522.44,228.16 522.89,228.06 523.34,227.95 523.79,227.84 524.24,227.74 524.69,227.63 525.14,227.52 525.59,227.42 526.04,227.31 526.49,227.21 526.94,227.10 527.39,227.00 527.84,226.89 528.29,226.79 528.74,226.68 529.19,226.58 529.64,226.48 530.09,226.37 530.54,226.27 530.99,226.17 531.45,226.07 531.90,225.97 532.35,225.86 532.80,225.76 533.25,225.66 533.70,225.56 534.15,225.46 534.60,225.36 535.05,225.26 535.50,225.16 535.95,225.03 536.40,224.96 536.40,224.96 536.40,224.96" fill="none" stroke="#5256a2" stroke-width="1.35" stroke-linejoin="round"/>
</g>
<text x="333" y="227.4" style="font-family:'Liberation Sans',sans-serif;fill:#000;stroke:#000;stroke-width:0.35px" font-size="15" font-weight="bold">D</text>
<line x1="461.60" y1="317.00" x2="483.60" y2="317.00" stroke="#333333" stroke-width="2" stroke-dasharray="3.5,1.1"/>
<text x="486.20" y="321.20" font-size="12">REF</text>
<line x1="461.60" y1="330.50" x2="483.60" y2="330.50" stroke="#4cadcb" stroke-width="1.6"/>
<text x="486.20" y="334.70" font-size="12">BA40</text>
<line x1="461.60" y1="344.00" x2="483.60" y2="344.00" stroke="#7f94c9" stroke-width="1.6"/>
<text x="486.20" y="348.20" font-size="12">MBA40</text>
<line x1="461.60" y1="357.20" x2="483.60" y2="357.20" stroke="#5256a2" stroke-width="1.6"/>
<text x="486.20" y="361.40" font-size="12">cMBA40</text>
</svg></body></html>
